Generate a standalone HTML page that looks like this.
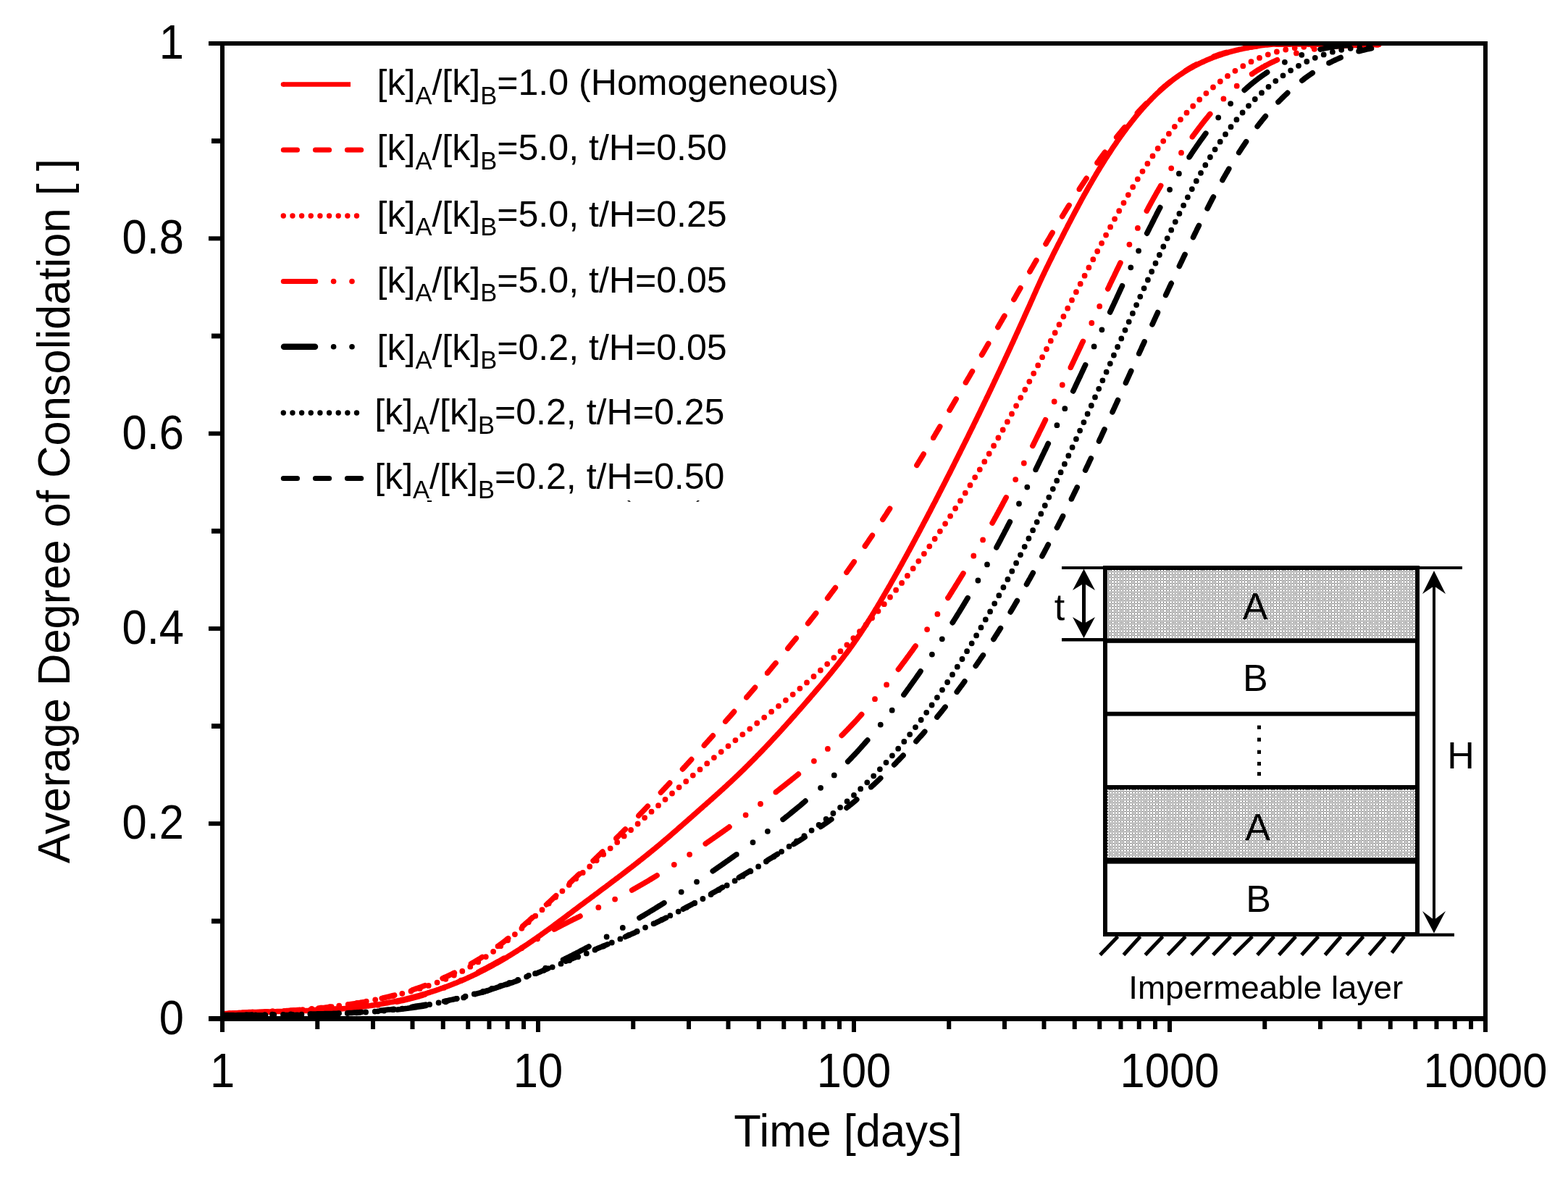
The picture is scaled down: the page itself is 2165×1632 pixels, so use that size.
<!DOCTYPE html><html><head><meta charset="utf-8"><title>Average Degree of Consolidation vs Time</title><style>html,body{margin:0;padding:0;background:#fff;overflow:hidden}svg{display:block}</style></head><body><svg width="2165" height="1632" viewBox="0 0 2165 1632"><rect width="2165" height="1632" fill="#fff"/><path d="M309.3 1399.9L311.3 1399.7L313.2 1399.6L315.2 1399.4L317.1 1399.3L319.1 1399.2L321.0 1399.0L323.0 1398.9L325.0 1398.8L326.9 1398.7L328.9 1398.6L330.9 1398.5L332.8 1398.4L334.8 1398.3L336.8 1398.2L338.8 1398.1L340.7 1398.0L342.7 1397.9L344.7 1397.8L346.7 1397.7L348.7 1397.7L350.6 1397.6L352.6 1397.5L354.6 1397.4L356.6 1397.4L358.6 1397.3L360.6 1397.2L362.6 1397.2L364.6 1397.1L366.6 1397.0L368.6 1397.0L370.6 1396.9L372.6 1396.9L374.6 1396.8L376.6 1396.8L378.6 1396.7L380.6 1396.7L382.6 1396.6L384.6 1396.6L386.6 1396.5L388.6 1396.4L390.6 1396.4L392.6 1396.3L394.6 1396.3L396.6 1396.2L398.6 1396.2L400.6 1396.1L402.6 1396.1L404.6 1396.0L406.6 1396.0L408.6 1395.9L410.7 1395.9L412.7 1395.8L414.7 1395.7L416.7 1395.7L418.7 1395.6L420.7 1395.5L422.7 1395.5L424.7 1395.4L426.8 1395.3L428.8 1395.3L430.8 1395.2L432.8 1395.1L434.8 1395.0L436.8 1394.9L438.8 1394.8L440.8 1394.7L442.9 1394.6L444.9 1394.6L446.9 1394.4L448.9 1394.3L450.9 1394.2L452.9 1394.1L454.9 1394.0L456.9 1393.9L458.9 1393.8L461.0 1393.6L463.0 1393.5L465.0 1393.4L467.0 1393.2L469.0 1393.1L471.0 1392.9L473.0 1392.7L475.0 1392.6L477.0 1392.4L479.0 1392.2L481.0 1392.1L483.0 1391.9L485.0 1391.7L487.0 1391.5L489.0 1391.3L491.0 1391.1L493.0 1390.9L495.0 1390.6L497.0 1390.4L499.0 1390.2L501.0 1389.9L503.0 1389.7L505.0 1389.4L507.0 1389.1L509.0 1388.9L511.0 1388.6L512.9 1388.3L514.9 1388.0L516.9 1387.7L518.9 1387.4L520.9 1387.1L522.9 1386.8L524.8 1386.4L526.8 1386.1L528.8 1385.8L530.8 1385.4L532.7 1385.1L534.7 1384.7L536.7 1384.3L538.6 1383.9L540.6 1383.6L542.6 1383.2L544.5 1382.8L546.5 1382.4L548.5 1381.9L550.4 1381.5L552.4 1381.1L554.3 1380.6L556.3 1380.2L558.2 1379.8L560.2 1379.3L562.1 1378.8L564.0 1378.3L566.0 1377.9L567.9 1377.4L569.9 1376.9L571.8 1376.4L573.7 1375.9L575.6 1375.3L577.6 1374.8L579.5 1374.3L581.4 1373.7L583.3 1373.2L585.2 1372.6L587.2 1372.1L589.1 1371.5L591.0 1370.9L592.9 1370.3L594.8 1369.7L596.7 1369.1L598.6 1368.5L600.5 1367.9L602.4 1367.2L604.2 1366.6L606.1 1366.0L608.0 1365.3L609.9 1364.6L611.8 1364.0L613.6 1363.3L615.5 1362.6L617.4 1361.9L619.2 1361.2L621.1 1360.5L623.0 1359.8L624.8 1359.1L626.7 1358.3L628.5 1357.6L630.4 1356.9L632.2 1356.1L634.0 1355.3L635.9 1354.6L637.7 1353.8L639.5 1353.0L641.4 1352.2L643.2 1351.4L645.0 1350.6L646.8 1349.7L648.6 1348.9L650.4 1348.1L652.2 1347.2L654.0 1346.4L655.8 1345.5L657.6 1344.7L659.4 1343.8L661.2 1342.9L663.0 1342.0L664.7 1341.1L666.5 1340.2L668.3 1339.3L670.1 1338.4L671.8 1337.5L673.6 1336.5L675.3 1335.6L677.1 1334.7L678.8 1333.7L680.6 1332.8L682.3 1331.8L684.1 1330.8L685.8 1329.9L687.5 1328.9L689.3 1327.9L691.0 1326.9L692.7 1325.9L694.4 1324.9L696.1 1323.9L697.9 1322.9L699.6 1321.9L701.3 1320.8L703.0 1319.8L704.7 1318.8L706.4 1317.7L708.0 1316.7L709.7 1315.6L711.4 1314.6L713.1 1313.5L714.8 1312.4L716.4 1311.4L718.1 1310.3L719.8 1309.2L721.4 1308.1L723.1 1307.0L724.7 1306.0L726.4 1304.9L728.0 1303.8L729.7 1302.7L731.3 1301.5L733.0 1300.4L734.6 1299.3L736.2 1298.2L737.8 1297.1L739.5 1296.0L741.1 1294.8L742.7 1293.7L744.3 1292.6L745.9 1291.4L747.5 1290.3L749.1 1289.1L750.7 1288.0L752.3 1286.8L753.9 1285.7L755.5 1284.5L757.1 1283.4L758.7 1282.2L760.3 1281.0L761.9 1279.9L763.5 1278.7L765.1 1277.5L766.6 1276.3L768.2 1275.2L769.8 1274.0L771.4 1272.8L773.0 1271.6L774.6 1270.4L776.2 1269.3L777.7 1268.1L779.3 1266.9L780.9 1265.7L782.5 1264.5L784.1 1263.3L785.7 1262.1L787.3 1260.9L788.9 1259.7L790.5 1258.5L792.1 1257.3L793.7 1256.1L795.3 1254.9L796.9 1253.7L798.5 1252.5L800.1 1251.3L801.7 1250.1L803.3 1248.9L805.0 1247.7L806.6 1246.5L808.2 1245.3L809.8 1244.1L811.4 1242.9L813.1 1241.7L814.7 1240.5L816.3 1239.3L817.9 1238.1L819.6 1236.9L821.2 1235.6L822.8 1234.4L824.5 1233.2L826.1 1232.0L827.7 1230.8L829.3 1229.6L831.0 1228.3L832.6 1227.1L834.2 1225.9L835.9 1224.7L837.5 1223.5L839.1 1222.2L840.8 1221.0L842.4 1219.8L844.0 1218.6L845.7 1217.3L847.3 1216.1L848.9 1214.9L850.5 1213.6L852.2 1212.4L853.8 1211.2L855.4 1209.9L857.0 1208.7L858.7 1207.5L860.3 1206.2L861.9 1205.0L863.5 1203.8L865.1 1202.5L866.7 1201.3L868.3 1200.0L870.0 1198.8L871.6 1197.6L873.2 1196.3L874.8 1195.1L876.4 1193.8L878.0 1192.6L879.6 1191.3L881.2 1190.1L882.7 1188.8L884.3 1187.6L885.9 1186.3L887.5 1185.0L889.1 1183.8L890.6 1182.5L892.2 1181.3L893.8 1180.0L895.3 1178.8L896.9 1177.5L898.5 1176.2L900.0 1175.0L901.6 1173.7L903.1 1172.4L904.7 1171.2L906.2 1169.9L907.7 1168.6L909.3 1167.3L910.8 1166.1L912.3 1164.8L913.8 1163.5L915.3 1162.2L916.8 1161.0L918.3 1159.7L919.9 1158.4L921.4 1157.1L922.9 1155.8L924.3 1154.6L925.8 1153.3L927.3 1152.0L928.8 1150.7L930.3 1149.4L931.8 1148.1L933.3 1146.8L934.8 1145.5L936.2 1144.2L937.7 1142.9L939.2 1141.6L940.7 1140.3L942.2 1139.0L943.7 1137.7L945.1 1136.4L946.6 1135.1L948.1 1133.8L949.6 1132.5L951.1 1131.2L952.6 1129.9L954.0 1128.6L955.5 1127.3L957.0 1125.9L958.5 1124.6L960.0 1123.3L961.5 1122.0L963.0 1120.7L964.5 1119.3L966.0 1118.0L967.5 1116.7L969.0 1115.4L970.5 1114.0L972.0 1112.7L973.6 1111.4L975.1 1110.0L976.6 1108.7L978.1 1107.4L979.6 1106.0L981.1 1104.7L982.6 1103.4L984.1 1102.0L985.6 1100.7L987.1 1099.3L988.6 1098.0L990.1 1096.6L991.6 1095.3L993.1 1093.9L994.6 1092.6L996.1 1091.2L997.6 1089.9L999.1 1088.5L1000.6 1087.1L1002.1 1085.8L1003.6 1084.4L1005.0 1083.0L1006.5 1081.7L1008.0 1080.3L1009.5 1078.9L1010.9 1077.6L1012.4 1076.2L1013.8 1074.8L1015.3 1073.4L1016.7 1072.1L1018.2 1070.7L1019.6 1069.3L1021.0 1067.9L1022.5 1066.5L1023.9 1065.2L1025.3 1063.8L1026.8 1062.4L1028.2 1061.0L1029.6 1059.6L1031.0 1058.2L1032.4 1056.8L1033.8 1055.4L1035.2 1054.0L1036.6 1052.6L1038.0 1051.2L1039.4 1049.8L1040.8 1048.4L1042.2 1047.0L1043.6 1045.6L1044.9 1044.1L1046.3 1042.7L1047.7 1041.3L1049.1 1039.9L1050.4 1038.5L1051.8 1037.1L1053.2 1035.6L1054.5 1034.2L1055.9 1032.8L1057.3 1031.4L1058.6 1029.9L1060.0 1028.5L1061.3 1027.1L1062.7 1025.6L1064.0 1024.2L1065.4 1022.7L1066.7 1021.3L1068.1 1019.8L1069.4 1018.4L1070.7 1017.0L1072.1 1015.5L1073.4 1014.0L1074.8 1012.6L1076.1 1011.1L1077.4 1009.7L1078.8 1008.2L1080.1 1006.8L1081.4 1005.3L1082.7 1003.8L1084.1 1002.4L1085.4 1000.9L1086.7 999.4L1088.0 997.9L1089.4 996.5L1090.7 995.0L1092.0 993.5L1093.3 992.0L1094.6 990.5L1095.9 989.1L1097.3 987.6L1098.6 986.1L1099.9 984.6L1101.2 983.1L1102.5 981.6L1103.8 980.1L1105.2 978.6L1106.5 977.1L1107.8 975.6L1109.1 974.1L1110.4 972.6L1111.7 971.1L1113.0 969.6L1114.4 968.0L1115.7 966.5L1117.0 965.0L1118.3 963.5L1119.6 962.0L1120.9 960.4L1122.3 958.9L1123.6 957.4L1124.9 955.8L1126.2 954.3L1127.5 952.8L1128.8 951.2L1130.1 949.7L1131.5 948.1L1132.8 946.6L1134.1 945.1L1135.4 943.5L1136.7 942.0L1138.0 940.4L1139.3 938.8L1140.6 937.3L1141.9 935.7L1143.2 934.2L1144.5 932.6L1145.8 931.0L1147.1 929.5L1148.4 927.9L1149.6 926.3L1150.9 924.7L1152.2 923.1L1153.5 921.6L1154.7 920.0L1156.0 918.4L1157.3 916.8L1158.5 915.2L1159.8 913.6L1161.0 912.0L1162.2 910.4L1163.5 908.8L1164.7 907.2L1165.9 905.6L1167.1 904.0L1168.4 902.4L1169.6 900.8L1170.8 899.2L1172.0 897.6L1173.1 895.9L1174.3 894.3L1175.5 892.7L1176.7 891.1L1177.8 889.4L1179.0 887.8L1180.1 886.2L1181.2 884.5L1182.4 882.9L1183.5 881.3L1184.6 879.6L1185.7 878.0L1186.9 876.3L1188.0 874.7L1189.1 873.0L1190.2 871.4L1191.2 869.7L1192.3 868.1L1193.4 866.4L1194.5 864.7L1195.6 863.1L1196.6 861.4L1197.7 859.7L1198.7 858.1L1199.8 856.4L1200.9 854.7L1201.9 853.0L1202.9 851.4L1204.0 849.7L1205.0 848.0L1206.1 846.3L1207.1 844.6L1208.1 842.9L1209.1 841.2L1210.2 839.6L1211.2 837.9L1212.2 836.2L1213.2 834.5L1214.2 832.8L1215.2 831.1L1216.2 829.4L1217.2 827.7L1218.2 825.9L1219.3 824.2L1220.2 822.5L1221.2 820.8L1222.2 819.1L1223.2 817.4L1224.2 815.7L1225.2 814.0L1226.2 812.2L1227.2 810.5L1228.2 808.8L1229.2 807.1L1230.2 805.3L1231.1 803.6L1232.1 801.9L1233.1 800.2L1234.1 798.4L1235.1 796.7L1236.0 795.0L1237.0 793.2L1238.0 791.5L1239.0 789.7L1239.9 788.0L1240.9 786.3L1241.9 784.5L1242.8 782.8L1243.8 781.0L1244.8 779.3L1245.7 777.5L1246.7 775.8L1247.7 774.0L1248.6 772.3L1249.6 770.5L1250.6 768.8L1251.5 767.0L1252.5 765.3L1253.4 763.5L1254.4 761.7L1255.4 760.0L1256.3 758.2L1257.3 756.5L1258.2 754.7L1259.2 752.9L1260.1 751.2L1261.1 749.4L1262.0 747.6L1263.0 745.9L1263.9 744.1L1264.9 742.3L1265.8 740.6L1266.8 738.8L1267.7 737.0L1268.7 735.2L1269.6 733.5L1270.5 731.7L1271.5 729.9L1272.4 728.1L1273.4 726.4L1274.3 724.6L1275.2 722.8L1276.2 721.0L1277.1 719.2L1278.1 717.5L1279.0 715.7L1279.9 713.9L1280.9 712.1L1281.8 710.3L1282.7 708.5L1283.7 706.8L1284.6 705.0L1285.5 703.2L1286.4 701.4L1287.4 699.6L1288.3 697.8L1289.2 696.0L1290.2 694.2L1291.1 692.5L1292.0 690.7L1292.9 688.9L1293.8 687.1L1294.8 685.3L1295.7 683.5L1296.6 681.7L1297.5 679.9L1298.5 678.1L1299.4 676.3L1300.3 674.5L1301.2 672.7L1302.1 671.0L1303.0 669.2L1304.0 667.4L1304.9 665.6L1305.8 663.8L1306.7 662.0L1307.6 660.2L1308.5 658.4L1309.4 656.6L1310.4 654.8L1311.3 653.0L1312.2 651.2L1313.1 649.4L1314.0 647.6L1314.9 645.8L1315.8 644.0L1316.7 642.2L1317.6 640.4L1318.5 638.6L1319.4 636.8L1320.3 635.0L1321.2 633.2L1322.1 631.4L1323.0 629.6L1323.9 627.8L1324.8 626.0L1325.7 624.2L1326.6 622.4L1327.5 620.6L1328.4 618.8L1329.3 617.0L1330.2 615.2L1331.1 613.4L1332.0 611.6L1332.9 609.8L1333.8 608.0L1334.7 606.2L1335.6 604.4L1336.5 602.6L1337.4 600.8L1338.2 599.0L1339.1 597.2L1340.0 595.4L1340.9 593.6L1341.8 591.8L1342.7 590.0L1343.6 588.2L1344.4 586.4L1345.3 584.6L1346.2 582.8L1347.1 581.0L1348.0 579.2L1348.8 577.4L1349.7 575.6L1350.6 573.8L1351.5 572.0L1352.4 570.2L1353.2 568.4L1354.1 566.6L1355.0 564.7L1355.9 562.9L1356.7 561.1L1357.6 559.3L1358.5 557.5L1359.3 555.7L1360.2 553.9L1361.1 552.1L1361.9 550.3L1362.8 548.5L1363.7 546.7L1364.5 544.9L1365.4 543.1L1366.3 541.3L1367.1 539.5L1368.0 537.7L1368.8 535.9L1369.7 534.1L1370.6 532.3L1371.4 530.4L1372.3 528.6L1373.1 526.8L1374.0 525.0L1374.8 523.2L1375.7 521.4L1376.5 519.6L1377.4 517.8L1378.2 516.0L1379.1 514.2L1379.9 512.4L1380.8 510.6L1381.6 508.8L1382.5 507.0L1383.3 505.2L1384.2 503.4L1385.0 501.6L1385.9 499.7L1386.7 497.9L1387.5 496.1L1388.4 494.3L1389.2 492.5L1390.0 490.7L1390.9 488.9L1391.7 487.1L1392.6 485.3L1393.4 483.5L1394.2 481.7L1395.1 479.9L1395.9 478.1L1396.7 476.3L1397.5 474.5L1398.4 472.7L1399.2 470.9L1400.0 469.1L1400.8 467.3L1401.7 465.5L1402.5 463.6L1403.3 461.8L1404.1 460.0L1405.0 458.2L1405.8 456.4L1406.6 454.6L1407.4 452.8L1408.2 451.0L1409.0 449.2L1409.9 447.4L1410.7 445.6L1411.5 443.8L1412.3 442.0L1413.1 440.2L1413.9 438.4L1414.7 436.6L1415.5 434.8L1416.3 433.0L1417.1 431.2L1417.9 429.4L1418.7 427.6L1419.6 425.8L1420.4 424.0L1421.2 422.2L1422.0 420.4L1422.8 418.6L1423.6 416.8L1424.4 415.0L1425.2 413.2L1426.0 411.4L1426.8 409.6L1427.6 407.8L1428.4 406.0L1429.2 404.2L1430.0 402.4L1430.8 400.6L1431.6 398.8L1432.4 397.0L1433.2 395.2L1434.0 393.4L1434.9 391.6L1435.7 389.8L1436.5 388.0L1437.3 386.2L1438.2 384.4L1439.0 382.6L1439.9 380.8L1440.7 379.0L1441.6 377.2L1442.4 375.4L1443.3 373.6L1444.2 371.8L1445.0 370.0L1445.9 368.2L1446.8 366.5L1447.6 364.7L1448.5 362.9L1449.4 361.1L1450.3 359.3L1451.2 357.5L1452.1 355.7L1453.0 353.9L1453.8 352.1L1454.7 350.3L1455.6 348.5L1456.5 346.7L1457.4 344.9L1458.3 343.2L1459.2 341.4L1460.1 339.6L1461.0 337.8L1461.9 336.0L1462.9 334.2L1463.8 332.4L1464.7 330.6L1465.6 328.9L1466.5 327.1L1467.4 325.3L1468.3 323.5L1469.2 321.7L1470.1 319.9L1471.0 318.1L1472.0 316.4L1472.9 314.6L1473.8 312.8L1474.7 311.0L1475.6 309.2L1476.6 307.4L1477.5 305.7L1478.4 303.9L1479.4 302.1L1480.3 300.3L1481.2 298.6L1482.2 296.8L1483.1 295.0L1484.0 293.2L1485.0 291.5L1485.9 289.7L1486.9 287.9L1487.8 286.2L1488.8 284.4L1489.7 282.6L1490.7 280.9L1491.6 279.1L1492.6 277.3L1493.5 275.6L1494.5 273.8L1495.5 272.0L1496.4 270.3L1497.4 268.5L1498.4 266.8L1499.4 265.0L1500.4 263.3L1501.3 261.5L1502.3 259.8L1503.3 258.0L1504.3 256.3L1505.3 254.5L1506.3 252.8L1507.3 251.1L1508.3 249.3L1509.3 247.6L1510.4 245.8L1511.4 244.1L1512.4 242.4L1513.4 240.6L1514.5 238.9L1515.5 237.2L1516.5 235.5L1517.6 233.7L1518.6 232.0L1519.7 230.3L1520.7 228.6L1521.8 226.9L1522.9 225.2L1523.9 223.5L1525.0 221.7L1526.1 220.0L1527.2 218.3L1528.3 216.6L1529.4 214.9L1530.5 213.2L1531.6 211.6L1532.7 209.9L1533.8 208.2L1534.9 206.5L1536.0 204.8L1537.1 203.1L1538.3 201.4L1539.4 199.8L1540.6 198.1L1541.7 196.4L1542.9 194.7L1544.0 193.1L1545.2 191.4L1546.3 189.8L1547.5 188.1L1548.7 186.5L1549.9 184.8L1551.1 183.2L1552.3 181.5L1553.5 179.9L1554.7 178.3L1555.9 176.6L1557.1 175.0L1558.4 173.4L1559.6 171.8L1560.9 170.2L1562.1 168.6L1563.4 167.0L1564.6 165.4L1565.9 163.8L1567.2 162.2L1568.4 160.7L1569.7 159.1L1571.0 157.5L1572.3 156.0L1573.6 154.5L1574.9 152.9L1576.3 151.4L1577.6 149.9L1578.9 148.4L1580.3 146.9L1581.6 145.4L1583.0 143.9L1584.4 142.4L1585.7 141.0L1587.1 139.5L1588.5 138.1L1589.9 136.6L1591.3 135.2L1592.7 133.8L1594.1 132.4L1595.5 131.0L1597.0 129.6L1598.4 128.3L1599.9 126.9L1601.3 125.5L1602.8 124.2L1604.3 122.9L1605.8 121.6L1607.3 120.3L1608.7 119.0L1610.3 117.7L1611.8 116.4L1613.3 115.2L1614.8 113.9L1616.4 112.7L1617.9 111.5L1619.5 110.3L1621.1 109.1L1622.6 108.0L1624.2 106.8L1625.8 105.7L1627.4 104.5L1629.0 103.4L1630.7 102.3L1632.3 101.3L1633.9 100.2L1635.6 99.1L1637.2 98.1L1638.9 97.1L1640.6 96.1L1642.3 95.1L1644.0 94.1L1645.7 93.2L1647.4 92.2L1649.1 91.3L1650.8 90.4L1652.6 89.5L1654.3 88.6L1656.1 87.7L1657.8 86.9L1659.6 86.0L1661.4 85.2L1663.2 84.4L1664.9 83.6L1666.7 82.8L1668.6 82.1L1670.4 81.3L1672.2 80.6L1674.0 79.8L1675.8 79.1L1677.7 78.4L1679.5 77.7L1681.4 77.1L1683.2 76.4L1685.1 75.8L1687.0 75.2L1688.9 74.5L1690.7 73.9L1692.6 73.3L1694.5 72.8L1696.4 72.2L1698.3 71.7L1700.2 71.1L1702.1 70.6L1704.1 70.1L1706.0 69.6L1707.9 69.1L1709.9 68.7L1711.8 68.2L1713.7 67.8L1715.7 67.3L1717.6 66.9L1719.6 66.5L1721.6 66.1L1723.5 65.7L1725.5 65.4L1727.5 65.0L1729.5 64.7L1731.4 64.3L1733.4 64.0L1735.4 63.7L1737.4 63.4L1739.4 63.1L1741.4 62.8L1743.4 62.6L1745.4 62.3L1747.4 62.1L1749.4 61.9L1751.4 61.7L1753.4 61.5L1755.5 61.3L1757.5 61.1L1759.5 61.0L1761.5 61.0L1763.5 61.0L1765.6 61.0L1767.6 61.0L1769.6 61.0L1771.7 61.0L1773.7 61.0L1775.7 61.0L1777.8 61.0L1779.8 61.0L1781.8 61.0L1783.9 61.0L1785.9 61.0L1787.9 61.0L1790.0 61.0L1792.0 61.0L1794.1 61.0L1796.1 61.0L1798.1 61.0L1800.2 61.0L1802.2 61.0L1804.3 61.0L1806.3 61.0L1808.3 61.0L1810.4 61.0L1812.4 61.0L1814.5 61.0L1816.5 61.0L1818.5 61.0L1820.6 61.0L1822.6 61.0L1824.6 61.0L1826.7 61.0L1828.7 61.0L1830.7 61.0L1832.7 61.0L1834.8 61.0L1836.8 61.0L1838.8 61.0L1840.8 61.0L1842.8 61.0L1844.9 61.0L1846.9 61.0L1848.9 61.0L1850.9 61.0L1852.9 61.1L1854.9 61.2L1856.9 61.2L1858.9 61.3L1860.9 61.4L1862.8 61.4L1864.8 61.5L1866.8 61.5L1868.8 61.6L1870.8 61.6L1872.7 61.6L1874.7 61.7L1876.6 61.7L1878.6 61.7L1880.5 61.7L1882.5 61.8L1884.4 61.8L1886.4 61.8L1888.3 61.7L1890.2 61.7L1892.2 61.7L1894.1 61.7L1896.0 61.6L1897.9 61.6L1899.8 61.5L1901.7 61.5L1903.6 61.4L1903.6 61.4" fill="none" stroke="#ff0000" stroke-width="7.5" stroke-linejoin="round"/><path d="M309.1 1399.6L309.6 1399.6L311.6 1399.5L313.6 1399.4L315.5 1399.4L317.5 1399.3L319.5 1399.2L321.5 1399.1L323.5 1399.0L325.5 1398.9M351.6 1397.8L351.9 1397.8L353.9 1397.7L355.9 1397.6L357.9 1397.5L359.9 1397.4L361.9 1397.3L363.8 1397.2L365.8 1397.1L367.8 1397.0L369.6 1396.9M395.8 1395.5L395.8 1395.5L397.8 1395.4L399.8 1395.2L401.8 1395.1L403.8 1395.0L405.8 1394.8L407.8 1394.7L409.8 1394.6L411.8 1394.4L413.8 1394.3M439.9 1392.0L440.3 1392.0L442.3 1391.8L444.2 1391.6L446.2 1391.4L448.2 1391.2L450.2 1390.9L452.2 1390.7L454.2 1390.5L456.2 1390.3L457.8 1390.1M483.8 1386.6L483.9 1386.6L485.9 1386.2L487.9 1385.9L489.9 1385.6L491.8 1385.3L493.8 1385.0L495.8 1384.6L497.7 1384.3L499.7 1383.9L501.5 1383.6M527.2 1378.4L527.6 1378.3L529.5 1377.8L531.5 1377.4L533.4 1376.9L535.4 1376.4L537.3 1376.0L539.2 1375.5L541.2 1375.0L543.1 1374.5L544.7 1374.1M569.8 1366.7L570.0 1366.6L571.9 1366.0L573.8 1365.3L575.7 1364.7L577.6 1364.0L579.5 1363.4L581.4 1362.7L583.3 1362.0L585.2 1361.3L586.8 1360.7M611.1 1350.8L611.5 1350.6L613.3 1349.8L615.2 1349.0L617.0 1348.1L618.9 1347.3L620.7 1346.4L622.5 1345.5L624.4 1344.6L626.2 1343.7L627.4 1343.1M650.5 1330.7L650.7 1330.6L652.4 1329.6L654.2 1328.6L655.9 1327.6L657.6 1326.5L659.3 1325.5L661.0 1324.4L662.7 1323.4L664.4 1322.3L665.8 1321.4M687.4 1306.5L687.5 1306.5L689.1 1305.3L690.7 1304.1L692.2 1303.0L693.8 1301.8L695.3 1300.6L696.8 1299.4L698.4 1298.2L699.9 1297.0L701.4 1295.8L701.7 1295.6M721.8 1278.7L721.8 1278.7L723.3 1277.5L724.7 1276.2L726.2 1274.9L727.7 1273.6L729.1 1272.3L730.6 1271.0L732.0 1269.7L733.5 1268.4L734.9 1267.1L735.3 1266.8M754.5 1249.0L754.8 1248.8L756.2 1247.4L757.7 1246.1L759.2 1244.7L760.6 1243.3L762.1 1242.0L763.5 1240.6L765.0 1239.2L766.5 1237.9L767.7 1236.7M786.9 1218.9L787.0 1218.8L788.5 1217.4L790.0 1216.0L791.5 1214.6L793.0 1213.2L794.5 1211.8L796.0 1210.4L797.4 1209.0L798.9 1207.6L800.1 1206.6M819.1 1188.5L819.3 1188.3L820.7 1186.9L822.2 1185.5L823.7 1184.1L825.1 1182.7L826.6 1181.2L828.0 1179.8L829.5 1178.4L830.9 1177.0L832.0 1176.0M850.7 1157.6L850.7 1157.5L852.2 1156.1L853.6 1154.7L855.0 1153.3L856.4 1151.9L857.8 1150.4L859.3 1149.0L860.7 1147.6L862.1 1146.2L863.4 1144.9M881.8 1126.2L882.1 1125.8L883.5 1124.4L884.9 1123.0L886.3 1121.5L887.7 1120.1L889.1 1118.7L890.4 1117.2L891.8 1115.8L893.2 1114.3L894.3 1113.2M912.4 1094.2L912.4 1094.2L913.8 1092.7L915.2 1091.3L916.5 1089.8L917.9 1088.4L919.3 1086.9L920.6 1085.5L922.0 1084.0L923.3 1082.6L924.7 1081.1L924.7 1081.1M942.5 1061.9L942.6 1061.8L943.9 1060.4L945.3 1058.9L946.6 1057.5L947.9 1056.0L949.3 1054.5L950.6 1053.1L952.0 1051.6L953.3 1050.1L954.6 1048.7L954.7 1048.6M972.3 1029.2L972.6 1028.8L973.9 1027.3L975.3 1025.8L976.6 1024.4L977.9 1022.9L979.2 1021.4L980.6 1019.9L981.9 1018.4L983.2 1017.0L984.3 1015.8M1001.7 996.1L1001.7 996.1L1003.0 994.6L1004.3 993.1L1005.7 991.6L1007.0 990.1L1008.3 988.7L1009.6 987.2L1010.9 985.7L1012.2 984.2L1013.5 982.7L1013.6 982.6M1030.8 962.9L1030.9 962.7L1032.2 961.2L1033.6 959.7L1034.9 958.1L1036.2 956.6L1037.5 955.1L1038.8 953.6L1040.1 952.1L1041.4 950.6L1042.5 949.2M1059.5 929.2L1059.6 929.2L1060.9 927.7L1062.2 926.1L1063.5 924.6L1064.8 923.1L1066.0 921.5L1067.3 920.0L1068.6 918.4L1069.9 916.9L1071.1 915.5M1087.8 895.3L1087.8 895.3L1089.1 893.7L1090.4 892.1L1091.6 890.6L1092.9 889.0L1094.2 887.5L1095.4 885.9L1096.7 884.4L1098.0 882.8L1099.2 881.3M1115.6 860.8L1115.9 860.4L1117.1 858.9L1118.3 857.3L1119.6 855.7L1120.8 854.1L1122.1 852.6L1123.3 851.0L1124.5 849.4L1125.8 847.8L1126.7 846.7M1142.6 825.9L1142.9 825.5L1144.1 823.9L1145.3 822.3L1146.5 820.7L1147.7 819.1L1148.9 817.5L1150.1 815.9L1151.3 814.3L1152.5 812.7L1153.4 811.5M1168.9 790.3L1169.1 790.1L1170.2 788.5L1171.4 786.8L1172.6 785.2L1173.7 783.6L1174.9 781.9L1176.0 780.3L1177.2 778.7L1178.3 777.1L1179.3 775.6M1194.3 754.1L1194.3 754.1L1195.4 752.4L1196.5 750.8L1197.7 749.1L1198.8 747.5L1199.9 745.8L1201.0 744.2L1202.1 742.5L1203.3 740.9L1204.4 739.2L1204.4 739.2M1218.8 717.3L1218.9 717.2L1220.0 715.5L1221.1 713.8L1222.2 712.1L1223.3 710.5L1224.4 708.8L1225.4 707.1L1226.5 705.4L1227.6 703.8L1228.6 702.2M1265.9 642.4L1266.1 642.0L1267.2 640.3L1268.2 638.6L1269.2 636.9L1270.3 635.2L1271.3 633.5L1272.3 631.8L1273.4 630.1L1274.4 628.4L1275.2 627.0M1288.7 604.5L1288.7 604.4L1289.8 602.7L1290.8 601.0L1291.8 599.2L1292.8 597.5L1293.8 595.8L1294.8 594.1L1295.9 592.4L1296.9 590.6L1297.8 589.0M1311.1 566.4L1311.3 566.1L1312.3 564.4L1313.3 562.6L1314.4 560.9L1315.4 559.2L1316.4 557.4L1317.4 555.7L1318.4 554.0L1319.4 552.3L1320.2 550.9M1333.4 528.2L1333.5 528.0L1334.5 526.3L1335.5 524.6L1336.6 522.8L1337.6 521.1L1338.6 519.4L1339.6 517.6L1340.6 515.9L1341.6 514.2L1342.5 512.7M1355.6 490.0L1355.7 489.9L1356.7 488.1L1357.8 486.4L1358.8 484.7L1359.8 482.9L1360.8 481.2L1361.8 479.5L1362.8 477.7L1363.8 476.0L1364.7 474.5M1377.8 451.8L1377.9 451.7L1378.9 449.9L1379.9 448.2L1380.9 446.5L1381.9 444.7L1382.9 443.0L1383.9 441.3L1384.9 439.5L1385.9 437.8L1386.9 436.2M1399.9 413.5L1400.2 413.1L1401.2 411.3L1402.2 409.6L1403.1 407.9L1404.1 406.1L1405.1 404.4L1406.1 402.7L1407.1 400.9L1408.1 399.2L1408.9 397.8M1421.9 375.1L1422.0 375.0L1422.9 373.3L1423.9 371.5L1424.9 369.8L1425.9 368.1L1426.9 366.4L1427.9 364.6L1428.9 362.9L1429.9 361.2L1430.9 359.5M1444.0 336.8L1444.1 336.7L1445.1 334.9L1446.1 333.2L1447.1 331.5L1448.1 329.8L1449.1 328.1L1450.1 326.4L1451.1 324.6L1452.2 322.9L1453.1 321.3M1466.6 298.8L1466.8 298.6L1467.8 296.9L1468.9 295.1L1469.9 293.4L1471.0 291.7L1472.0 290.0L1473.1 288.3L1474.1 286.6L1475.2 284.9L1476.1 283.5M1490.2 261.3L1490.2 261.2L1491.3 259.5L1492.4 257.9L1493.5 256.2L1494.6 254.5L1495.8 252.8L1496.9 251.1L1498.0 249.5L1499.1 247.8L1500.1 246.3M1515.0 224.8L1515.1 224.6L1516.3 223.0L1517.5 221.4L1518.6 219.7L1519.8 218.1L1521.0 216.5L1522.2 214.8L1523.4 213.2L1524.6 211.6L1525.6 210.2M1541.6 189.5L1541.7 189.3L1543.0 187.7L1544.3 186.2L1545.5 184.6L1546.8 183.1L1548.1 181.5L1549.4 180.0L1550.6 178.4L1551.9 176.9L1553.0 175.6M1570.4 155.9L1570.5 155.8L1571.9 154.3L1573.2 152.8L1574.6 151.4L1576.0 149.9L1577.4 148.5L1578.8 147.0L1580.1 145.6L1581.5 144.2L1582.8 142.9M1601.8 124.8L1602.1 124.5L1603.6 123.1L1605.1 121.8L1606.6 120.5L1608.1 119.2L1609.7 118.0L1611.2 116.7L1612.7 115.4L1614.3 114.2L1615.5 113.2M1636.8 97.8L1637.0 97.7L1638.7 96.6L1640.3 95.6L1642.0 94.6L1643.7 93.6L1645.4 92.6L1647.1 91.6L1648.8 90.6L1650.5 89.7L1652.2 88.7L1652.3 88.7M1676.2 77.9L1676.4 77.8L1678.3 77.2L1680.2 76.5L1682.0 75.8L1683.9 75.2L1685.8 74.6L1687.7 74.0L1689.6 73.4L1691.5 72.8L1693.3 72.3M1718.8 66.4L1718.8 66.4L1720.8 66.1L1722.8 65.7L1724.8 65.4L1726.8 65.1L1728.8 64.7L1730.8 64.4L1732.8 64.2L1734.8 63.9L1736.6 63.6M1762.7 61.1L1763.0 61.1L1765.0 61.0L1767.0 61.0L1769.0 61.0L1771.0 61.0L1773.0 61.0L1775.1 61.0L1777.1 61.0L1779.1 61.0L1780.7 61.0M1806.9 61.0L1807.2 61.0L1809.2 61.0L1811.2 61.0L1813.2 61.0L1815.2 61.0L1817.2 61.0L1819.2 61.0L1821.2 61.0L1823.2 61.0L1824.9 61.0M1851.1 61.0L1851.2 61.0L1853.1 61.0L1855.1 61.0L1857.1 61.0L1859.1 61.0L1861.1 61.0L1863.1 61.0L1865.1 61.1L1867.1 61.1L1869.1 61.2L1869.1 61.2M1895.3 61.5L1895.5 61.5L1897.5 61.5L1899.4 61.5L1901.4 61.5L1903.4 61.5L1903.9 61.5" fill="none" stroke="#ff0000" stroke-width="7.5" stroke-linecap="round" stroke-linejoin="round"/><path d="M312.6 1399.2a3.9 3.9 0 1 0 7.8 0a3.9 3.9 0 1 0 -7.8 0M325.3 1398.9a3.9 3.9 0 1 0 7.8 0a3.9 3.9 0 1 0 -7.8 0M337.9 1398.5a3.9 3.9 0 1 0 7.8 0a3.9 3.9 0 1 0 -7.8 0M350.6 1398.0a3.9 3.9 0 1 0 7.8 0a3.9 3.9 0 1 0 -7.8 0M363.3 1397.5a3.9 3.9 0 1 0 7.8 0a3.9 3.9 0 1 0 -7.8 0M375.9 1396.8a3.9 3.9 0 1 0 7.8 0a3.9 3.9 0 1 0 -7.8 0M388.6 1396.0a3.9 3.9 0 1 0 7.8 0a3.9 3.9 0 1 0 -7.8 0M401.2 1395.1a3.9 3.9 0 1 0 7.8 0a3.9 3.9 0 1 0 -7.8 0M413.9 1394.1a3.9 3.9 0 1 0 7.8 0a3.9 3.9 0 1 0 -7.8 0M426.5 1393.0a3.9 3.9 0 1 0 7.8 0a3.9 3.9 0 1 0 -7.8 0M439.1 1391.7a3.9 3.9 0 1 0 7.8 0a3.9 3.9 0 1 0 -7.8 0M451.7 1390.2a3.9 3.9 0 1 0 7.8 0a3.9 3.9 0 1 0 -7.8 0M464.3 1388.6a3.9 3.9 0 1 0 7.8 0a3.9 3.9 0 1 0 -7.8 0M476.8 1386.8a3.9 3.9 0 1 0 7.8 0a3.9 3.9 0 1 0 -7.8 0M489.4 1384.8a3.9 3.9 0 1 0 7.8 0a3.9 3.9 0 1 0 -7.8 0M501.9 1382.7a3.9 3.9 0 1 0 7.8 0a3.9 3.9 0 1 0 -7.8 0M514.3 1380.3a3.9 3.9 0 1 0 7.8 0a3.9 3.9 0 1 0 -7.8 0M526.7 1377.7a3.9 3.9 0 1 0 7.8 0a3.9 3.9 0 1 0 -7.8 0M539.1 1374.9a3.9 3.9 0 1 0 7.8 0a3.9 3.9 0 1 0 -7.8 0M551.4 1371.8a3.9 3.9 0 1 0 7.8 0a3.9 3.9 0 1 0 -7.8 0M563.6 1368.5a3.9 3.9 0 1 0 7.8 0a3.9 3.9 0 1 0 -7.8 0M575.8 1364.9a3.9 3.9 0 1 0 7.8 0a3.9 3.9 0 1 0 -7.8 0M587.8 1360.9a3.9 3.9 0 1 0 7.8 0a3.9 3.9 0 1 0 -7.8 0M599.7 1356.6a3.9 3.9 0 1 0 7.8 0a3.9 3.9 0 1 0 -7.8 0M611.5 1351.8a3.9 3.9 0 1 0 7.8 0a3.9 3.9 0 1 0 -7.8 0M623.0 1346.6a3.9 3.9 0 1 0 7.8 0a3.9 3.9 0 1 0 -7.8 0M634.4 1340.9a3.9 3.9 0 1 0 7.8 0a3.9 3.9 0 1 0 -7.8 0M645.4 1334.7a3.9 3.9 0 1 0 7.8 0a3.9 3.9 0 1 0 -7.8 0M656.3 1328.1a3.9 3.9 0 1 0 7.8 0a3.9 3.9 0 1 0 -7.8 0M666.9 1321.1a3.9 3.9 0 1 0 7.8 0a3.9 3.9 0 1 0 -7.8 0M677.2 1313.8a3.9 3.9 0 1 0 7.8 0a3.9 3.9 0 1 0 -7.8 0M687.3 1306.2a3.9 3.9 0 1 0 7.8 0a3.9 3.9 0 1 0 -7.8 0M697.2 1298.3a3.9 3.9 0 1 0 7.8 0a3.9 3.9 0 1 0 -7.8 0M707.0 1290.1a3.9 3.9 0 1 0 7.8 0a3.9 3.9 0 1 0 -7.8 0M716.5 1281.8a3.9 3.9 0 1 0 7.8 0a3.9 3.9 0 1 0 -7.8 0M725.9 1273.3a3.9 3.9 0 1 0 7.8 0a3.9 3.9 0 1 0 -7.8 0M735.3 1264.7a3.9 3.9 0 1 0 7.8 0a3.9 3.9 0 1 0 -7.8 0M744.6 1256.1a3.9 3.9 0 1 0 7.8 0a3.9 3.9 0 1 0 -7.8 0M753.8 1247.4a3.9 3.9 0 1 0 7.8 0a3.9 3.9 0 1 0 -7.8 0M763.1 1238.8a3.9 3.9 0 1 0 7.8 0a3.9 3.9 0 1 0 -7.8 0M772.5 1230.3a3.9 3.9 0 1 0 7.8 0a3.9 3.9 0 1 0 -7.8 0M781.9 1221.8a3.9 3.9 0 1 0 7.8 0a3.9 3.9 0 1 0 -7.8 0M791.3 1213.3a3.9 3.9 0 1 0 7.8 0a3.9 3.9 0 1 0 -7.8 0M800.8 1204.9a3.9 3.9 0 1 0 7.8 0a3.9 3.9 0 1 0 -7.8 0M810.3 1196.5a3.9 3.9 0 1 0 7.8 0a3.9 3.9 0 1 0 -7.8 0M819.8 1188.1a3.9 3.9 0 1 0 7.8 0a3.9 3.9 0 1 0 -7.8 0M829.3 1179.7a3.9 3.9 0 1 0 7.8 0a3.9 3.9 0 1 0 -7.8 0M838.8 1171.3a3.9 3.9 0 1 0 7.8 0a3.9 3.9 0 1 0 -7.8 0M848.3 1162.9a3.9 3.9 0 1 0 7.8 0a3.9 3.9 0 1 0 -7.8 0M857.8 1154.4a3.9 3.9 0 1 0 7.8 0a3.9 3.9 0 1 0 -7.8 0M867.2 1146.0a3.9 3.9 0 1 0 7.8 0a3.9 3.9 0 1 0 -7.8 0M876.7 1137.5a3.9 3.9 0 1 0 7.8 0a3.9 3.9 0 1 0 -7.8 0M886.2 1129.1a3.9 3.9 0 1 0 7.8 0a3.9 3.9 0 1 0 -7.8 0M895.6 1120.7a3.9 3.9 0 1 0 7.8 0a3.9 3.9 0 1 0 -7.8 0M905.1 1112.2a3.9 3.9 0 1 0 7.8 0a3.9 3.9 0 1 0 -7.8 0M914.6 1103.8a3.9 3.9 0 1 0 7.8 0a3.9 3.9 0 1 0 -7.8 0M924.1 1095.5a3.9 3.9 0 1 0 7.8 0a3.9 3.9 0 1 0 -7.8 0M933.7 1087.1a3.9 3.9 0 1 0 7.8 0a3.9 3.9 0 1 0 -7.8 0M943.3 1078.9a3.9 3.9 0 1 0 7.8 0a3.9 3.9 0 1 0 -7.8 0M952.9 1070.6a3.9 3.9 0 1 0 7.8 0a3.9 3.9 0 1 0 -7.8 0M962.6 1062.4a3.9 3.9 0 1 0 7.8 0a3.9 3.9 0 1 0 -7.8 0M972.3 1054.2a3.9 3.9 0 1 0 7.8 0a3.9 3.9 0 1 0 -7.8 0M982.0 1046.1a3.9 3.9 0 1 0 7.8 0a3.9 3.9 0 1 0 -7.8 0M991.8 1038.1a3.9 3.9 0 1 0 7.8 0a3.9 3.9 0 1 0 -7.8 0M1001.6 1030.1a3.9 3.9 0 1 0 7.8 0a3.9 3.9 0 1 0 -7.8 0M1011.5 1022.1a3.9 3.9 0 1 0 7.8 0a3.9 3.9 0 1 0 -7.8 0M1021.4 1014.2a3.9 3.9 0 1 0 7.8 0a3.9 3.9 0 1 0 -7.8 0M1031.4 1006.3a3.9 3.9 0 1 0 7.8 0a3.9 3.9 0 1 0 -7.8 0M1041.3 998.5a3.9 3.9 0 1 0 7.8 0a3.9 3.9 0 1 0 -7.8 0M1051.3 990.6a3.9 3.9 0 1 0 7.8 0a3.9 3.9 0 1 0 -7.8 0M1061.2 982.7a3.9 3.9 0 1 0 7.8 0a3.9 3.9 0 1 0 -7.8 0M1071.1 974.8a3.9 3.9 0 1 0 7.8 0a3.9 3.9 0 1 0 -7.8 0M1081.0 966.8a3.9 3.9 0 1 0 7.8 0a3.9 3.9 0 1 0 -7.8 0M1090.8 958.8a3.9 3.9 0 1 0 7.8 0a3.9 3.9 0 1 0 -7.8 0M1100.5 950.6a3.9 3.9 0 1 0 7.8 0a3.9 3.9 0 1 0 -7.8 0M1110.1 942.4a3.9 3.9 0 1 0 7.8 0a3.9 3.9 0 1 0 -7.8 0M1119.6 934.0a3.9 3.9 0 1 0 7.8 0a3.9 3.9 0 1 0 -7.8 0M1129.0 925.5a3.9 3.9 0 1 0 7.8 0a3.9 3.9 0 1 0 -7.8 0M1138.3 916.8a3.9 3.9 0 1 0 7.8 0a3.9 3.9 0 1 0 -7.8 0M1147.5 908.1a3.9 3.9 0 1 0 7.8 0a3.9 3.9 0 1 0 -7.8 0M1156.6 899.2a3.9 3.9 0 1 0 7.8 0a3.9 3.9 0 1 0 -7.8 0M1165.5 890.3a3.9 3.9 0 1 0 7.8 0a3.9 3.9 0 1 0 -7.8 0M1174.4 881.2a3.9 3.9 0 1 0 7.8 0a3.9 3.9 0 1 0 -7.8 0M1183.1 872.0a3.9 3.9 0 1 0 7.8 0a3.9 3.9 0 1 0 -7.8 0M1191.7 862.7a3.9 3.9 0 1 0 7.8 0a3.9 3.9 0 1 0 -7.8 0M1200.2 853.3a3.9 3.9 0 1 0 7.8 0a3.9 3.9 0 1 0 -7.8 0M1208.6 843.8a3.9 3.9 0 1 0 7.8 0a3.9 3.9 0 1 0 -7.8 0M1216.9 834.2a3.9 3.9 0 1 0 7.8 0a3.9 3.9 0 1 0 -7.8 0M1225.1 824.5a3.9 3.9 0 1 0 7.8 0a3.9 3.9 0 1 0 -7.8 0M1233.2 814.7a3.9 3.9 0 1 0 7.8 0a3.9 3.9 0 1 0 -7.8 0M1241.2 804.9a3.9 3.9 0 1 0 7.8 0a3.9 3.9 0 1 0 -7.8 0M1249.0 794.9a3.9 3.9 0 1 0 7.8 0a3.9 3.9 0 1 0 -7.8 0M1256.8 784.9a3.9 3.9 0 1 0 7.8 0a3.9 3.9 0 1 0 -7.8 0M1264.4 774.8a3.9 3.9 0 1 0 7.8 0a3.9 3.9 0 1 0 -7.8 0M1272.0 764.6a3.9 3.9 0 1 0 7.8 0a3.9 3.9 0 1 0 -7.8 0M1279.4 754.3a3.9 3.9 0 1 0 7.8 0a3.9 3.9 0 1 0 -7.8 0M1286.8 744.0a3.9 3.9 0 1 0 7.8 0a3.9 3.9 0 1 0 -7.8 0M1294.0 733.6a3.9 3.9 0 1 0 7.8 0a3.9 3.9 0 1 0 -7.8 0M1301.2 723.1a3.9 3.9 0 1 0 7.8 0a3.9 3.9 0 1 0 -7.8 0M1308.2 712.6a3.9 3.9 0 1 0 7.8 0a3.9 3.9 0 1 0 -7.8 0M1315.2 702.0a3.9 3.9 0 1 0 7.8 0a3.9 3.9 0 1 0 -7.8 0M1322.1 691.4a3.9 3.9 0 1 0 7.8 0a3.9 3.9 0 1 0 -7.8 0M1328.9 680.7a3.9 3.9 0 1 0 7.8 0a3.9 3.9 0 1 0 -7.8 0M1335.6 669.9a3.9 3.9 0 1 0 7.8 0a3.9 3.9 0 1 0 -7.8 0M1342.3 659.1a3.9 3.9 0 1 0 7.8 0a3.9 3.9 0 1 0 -7.8 0M1348.9 648.3a3.9 3.9 0 1 0 7.8 0a3.9 3.9 0 1 0 -7.8 0M1355.4 637.4a3.9 3.9 0 1 0 7.8 0a3.9 3.9 0 1 0 -7.8 0M1361.8 626.5a3.9 3.9 0 1 0 7.8 0a3.9 3.9 0 1 0 -7.8 0M1368.2 615.5a3.9 3.9 0 1 0 7.8 0a3.9 3.9 0 1 0 -7.8 0M1374.5 604.5a3.9 3.9 0 1 0 7.8 0a3.9 3.9 0 1 0 -7.8 0M1380.8 593.5a3.9 3.9 0 1 0 7.8 0a3.9 3.9 0 1 0 -7.8 0M1387.0 582.4a3.9 3.9 0 1 0 7.8 0a3.9 3.9 0 1 0 -7.8 0M1393.1 571.4a3.9 3.9 0 1 0 7.8 0a3.9 3.9 0 1 0 -7.8 0M1399.2 560.3a3.9 3.9 0 1 0 7.8 0a3.9 3.9 0 1 0 -7.8 0M1405.3 549.1a3.9 3.9 0 1 0 7.8 0a3.9 3.9 0 1 0 -7.8 0M1411.4 538.0a3.9 3.9 0 1 0 7.8 0a3.9 3.9 0 1 0 -7.8 0M1417.4 526.8a3.9 3.9 0 1 0 7.8 0a3.9 3.9 0 1 0 -7.8 0M1423.3 515.6a3.9 3.9 0 1 0 7.8 0a3.9 3.9 0 1 0 -7.8 0M1429.3 504.4a3.9 3.9 0 1 0 7.8 0a3.9 3.9 0 1 0 -7.8 0M1435.2 493.2a3.9 3.9 0 1 0 7.8 0a3.9 3.9 0 1 0 -7.8 0M1441.1 482.0a3.9 3.9 0 1 0 7.8 0a3.9 3.9 0 1 0 -7.8 0M1446.9 470.7a3.9 3.9 0 1 0 7.8 0a3.9 3.9 0 1 0 -7.8 0M1452.8 459.5a3.9 3.9 0 1 0 7.8 0a3.9 3.9 0 1 0 -7.8 0M1458.6 448.2a3.9 3.9 0 1 0 7.8 0a3.9 3.9 0 1 0 -7.8 0M1464.5 437.0a3.9 3.9 0 1 0 7.8 0a3.9 3.9 0 1 0 -7.8 0M1470.3 425.7a3.9 3.9 0 1 0 7.8 0a3.9 3.9 0 1 0 -7.8 0M1476.1 414.4a3.9 3.9 0 1 0 7.8 0a3.9 3.9 0 1 0 -7.8 0M1482.0 403.2a3.9 3.9 0 1 0 7.8 0a3.9 3.9 0 1 0 -7.8 0M1487.8 391.9a3.9 3.9 0 1 0 7.8 0a3.9 3.9 0 1 0 -7.8 0M1493.7 380.7a3.9 3.9 0 1 0 7.8 0a3.9 3.9 0 1 0 -7.8 0M1499.5 369.4a3.9 3.9 0 1 0 7.8 0a3.9 3.9 0 1 0 -7.8 0M1505.4 358.2a3.9 3.9 0 1 0 7.8 0a3.9 3.9 0 1 0 -7.8 0M1511.3 347.0a3.9 3.9 0 1 0 7.8 0a3.9 3.9 0 1 0 -7.8 0M1517.2 335.8a3.9 3.9 0 1 0 7.8 0a3.9 3.9 0 1 0 -7.8 0M1523.2 324.6a3.9 3.9 0 1 0 7.8 0a3.9 3.9 0 1 0 -7.8 0M1529.2 313.4a3.9 3.9 0 1 0 7.8 0a3.9 3.9 0 1 0 -7.8 0M1535.2 302.3a3.9 3.9 0 1 0 7.8 0a3.9 3.9 0 1 0 -7.8 0M1541.3 291.2a3.9 3.9 0 1 0 7.8 0a3.9 3.9 0 1 0 -7.8 0M1547.6 280.1a3.9 3.9 0 1 0 7.8 0a3.9 3.9 0 1 0 -7.8 0M1553.9 269.1a3.9 3.9 0 1 0 7.8 0a3.9 3.9 0 1 0 -7.8 0M1560.3 258.2a3.9 3.9 0 1 0 7.8 0a3.9 3.9 0 1 0 -7.8 0M1566.9 247.3a3.9 3.9 0 1 0 7.8 0a3.9 3.9 0 1 0 -7.8 0M1573.6 236.6a3.9 3.9 0 1 0 7.8 0a3.9 3.9 0 1 0 -7.8 0M1580.5 225.9a3.9 3.9 0 1 0 7.8 0a3.9 3.9 0 1 0 -7.8 0M1587.6 215.4a3.9 3.9 0 1 0 7.8 0a3.9 3.9 0 1 0 -7.8 0M1594.8 205.0a3.9 3.9 0 1 0 7.8 0a3.9 3.9 0 1 0 -7.8 0M1602.3 194.8a3.9 3.9 0 1 0 7.8 0a3.9 3.9 0 1 0 -7.8 0M1610.0 184.7a3.9 3.9 0 1 0 7.8 0a3.9 3.9 0 1 0 -7.8 0M1618.0 174.8a3.9 3.9 0 1 0 7.8 0a3.9 3.9 0 1 0 -7.8 0M1626.1 165.1a3.9 3.9 0 1 0 7.8 0a3.9 3.9 0 1 0 -7.8 0M1634.6 155.7a3.9 3.9 0 1 0 7.8 0a3.9 3.9 0 1 0 -7.8 0M1643.3 146.5a3.9 3.9 0 1 0 7.8 0a3.9 3.9 0 1 0 -7.8 0M1652.3 137.5a3.9 3.9 0 1 0 7.8 0a3.9 3.9 0 1 0 -7.8 0M1661.5 128.8a3.9 3.9 0 1 0 7.8 0a3.9 3.9 0 1 0 -7.8 0M1671.1 120.5a3.9 3.9 0 1 0 7.8 0a3.9 3.9 0 1 0 -7.8 0M1680.9 112.5a3.9 3.9 0 1 0 7.8 0a3.9 3.9 0 1 0 -7.8 0M1691.1 104.9a3.9 3.9 0 1 0 7.8 0a3.9 3.9 0 1 0 -7.8 0M1701.5 97.8a3.9 3.9 0 1 0 7.8 0a3.9 3.9 0 1 0 -7.8 0M1712.4 91.2a3.9 3.9 0 1 0 7.8 0a3.9 3.9 0 1 0 -7.8 0M1723.6 85.2a3.9 3.9 0 1 0 7.8 0a3.9 3.9 0 1 0 -7.8 0M1735.1 79.9a3.9 3.9 0 1 0 7.8 0a3.9 3.9 0 1 0 -7.8 0M1746.9 75.3a3.9 3.9 0 1 0 7.8 0a3.9 3.9 0 1 0 -7.8 0M1759.0 71.5a3.9 3.9 0 1 0 7.8 0a3.9 3.9 0 1 0 -7.8 0M1771.3 68.5a3.9 3.9 0 1 0 7.8 0a3.9 3.9 0 1 0 -7.8 0M1783.8 66.3a3.9 3.9 0 1 0 7.8 0a3.9 3.9 0 1 0 -7.8 0M1796.4 64.8a3.9 3.9 0 1 0 7.8 0a3.9 3.9 0 1 0 -7.8 0M1809.0 63.9a3.9 3.9 0 1 0 7.8 0a3.9 3.9 0 1 0 -7.8 0M1821.7 63.4a3.9 3.9 0 1 0 7.8 0a3.9 3.9 0 1 0 -7.8 0M1834.4 63.2a3.9 3.9 0 1 0 7.8 0a3.9 3.9 0 1 0 -7.8 0M1847.0 63.1a3.9 3.9 0 1 0 7.8 0a3.9 3.9 0 1 0 -7.8 0M1859.7 63.1a3.9 3.9 0 1 0 7.8 0a3.9 3.9 0 1 0 -7.8 0M1872.4 63.0a3.9 3.9 0 1 0 7.8 0a3.9 3.9 0 1 0 -7.8 0M1885.1 62.6a3.9 3.9 0 1 0 7.8 0a3.9 3.9 0 1 0 -7.8 0M1897.7 61.7a3.9 3.9 0 1 0 7.8 0a3.9 3.9 0 1 0 -7.8 0" fill="#ff0000"/><path d="M309.0 1400.4L309.5 1400.4L311.5 1400.2L313.5 1400.0L315.5 1399.8L317.6 1399.6L319.6 1399.4L321.6 1399.2L323.6 1399.0L325.6 1398.9L327.6 1398.7L329.6 1398.6L331.6 1398.4L333.7 1398.3L335.7 1398.1L337.7 1398.0L339.7 1397.9L341.7 1397.7L343.7 1397.6L345.7 1397.5L347.7 1397.4L348.4 1397.3M428.6 1394.6L428.6 1394.6L430.6 1394.5L432.6 1394.4L434.6 1394.4L436.6 1394.3L438.6 1394.2L440.6 1394.1L442.6 1394.1L444.6 1394.0L446.6 1393.9L448.6 1393.8L450.6 1393.7L452.6 1393.6L454.6 1393.5L456.6 1393.4L458.6 1393.3L460.6 1393.2L462.6 1393.1L464.6 1393.0L466.6 1392.9L468.5 1392.8M548.1 1383.2L548.1 1383.1L550.1 1382.7L552.0 1382.3L554.0 1381.9L555.9 1381.5L557.9 1381.0L559.8 1380.6L561.8 1380.1L563.7 1379.6L565.7 1379.2L567.6 1378.7L569.6 1378.2L571.5 1377.6L573.4 1377.1L575.3 1376.6L577.3 1376.0L579.2 1375.5L581.1 1374.9L583.0 1374.3L584.9 1373.7L586.8 1373.1M660.6 1342.1L660.9 1342.0L662.7 1341.1L664.4 1340.1L666.2 1339.2L668.0 1338.3L669.7 1337.4L671.5 1336.5L673.3 1335.5L675.0 1334.6L676.8 1333.6L678.5 1332.7L680.3 1331.7L682.1 1330.8L683.8 1329.8L685.5 1328.9L687.3 1327.9L689.0 1327.0L690.8 1326.0L692.5 1325.0L694.2 1324.0L695.8 1323.1M765.3 1283.1L765.8 1282.9L767.5 1282.0L769.2 1281.0L771.0 1280.1L772.7 1279.2L774.5 1278.3L776.2 1277.4L778.0 1276.5L779.7 1275.6L781.5 1274.7L783.3 1273.8L785.0 1272.9L786.8 1272.0L788.6 1271.1L790.4 1270.2L792.1 1269.3L793.9 1268.5L795.7 1267.6L797.5 1266.7L799.3 1265.9L801.0 1265.0M872.6 1229.0L873.0 1228.8L874.8 1227.8L876.5 1226.8L878.3 1225.8L880.0 1224.8L881.8 1223.8L883.5 1222.8L885.3 1221.8L887.0 1220.8L888.8 1219.8L890.5 1218.7L892.2 1217.7L894.0 1216.7L895.7 1215.7L897.4 1214.6L899.2 1213.6L900.9 1212.5L902.6 1211.5L904.3 1210.5L906.1 1209.4L907.1 1208.7M974.2 1164.9L974.6 1164.6L976.2 1163.5L977.8 1162.4L979.5 1161.2L981.1 1160.1L982.7 1159.0L984.3 1157.9L985.9 1156.7L987.6 1155.6L989.2 1154.5L990.8 1153.3L992.4 1152.2L994.0 1151.1L995.6 1149.9L997.2 1148.8L998.8 1147.7L1000.4 1146.5L1002.0 1145.4L1003.6 1144.2L1005.3 1143.1L1006.9 1141.9L1007.0 1141.8M1071.2 1093.8L1071.2 1093.7L1072.8 1092.5L1074.4 1091.3L1075.9 1090.0L1077.5 1088.8L1079.1 1087.5L1080.7 1086.3L1082.3 1085.0L1083.9 1083.8L1085.4 1082.5L1087.0 1081.3L1088.6 1080.0L1090.2 1078.7L1091.8 1077.5L1093.4 1076.2L1094.9 1074.9L1096.5 1073.7L1098.1 1072.4L1099.7 1071.1L1101.2 1069.8L1102.4 1068.8M1162.2 1015.4L1162.3 1015.3L1163.8 1013.9L1165.2 1012.5L1166.6 1011.0L1168.0 1009.6L1169.4 1008.2L1170.8 1006.8L1172.1 1005.3L1173.5 1003.9L1174.9 1002.4L1176.3 1001.0L1177.6 999.5L1179.0 998.1L1180.4 996.6L1181.7 995.2L1183.1 993.7L1184.4 992.2L1185.7 990.8L1187.1 989.3L1188.4 987.8L1189.7 986.4M1240.4 924.2L1240.5 924.1L1241.7 922.5L1242.9 920.9L1244.1 919.3L1245.3 917.7L1246.5 916.1L1247.7 914.5L1248.9 912.9L1250.1 911.3L1251.3 909.7L1252.4 908.1L1253.6 906.5L1254.8 904.9L1256.0 903.2L1257.2 901.6L1258.3 900.0L1259.5 898.4L1260.7 896.8L1261.8 895.1L1263.0 893.5L1264.1 892.0M1308.9 825.5L1309.0 825.4L1310.1 823.7L1311.2 822.0L1312.2 820.3L1313.3 818.6L1314.4 816.9L1315.4 815.2L1316.5 813.5L1317.6 811.8L1318.6 810.1L1319.7 808.4L1320.7 806.7L1321.8 805.0L1322.8 803.3L1323.9 801.6L1324.9 799.9L1326.0 798.2L1327.0 796.5L1328.1 794.8L1329.1 793.1L1330.0 791.6M1370.1 722.1L1370.3 721.8L1371.3 720.0L1372.2 718.3L1373.2 716.6L1374.1 714.8L1375.1 713.1L1376.1 711.3L1377.0 709.5L1378.0 707.8L1378.9 706.0L1379.9 704.3L1380.8 702.5L1381.8 700.8L1382.7 699.0L1383.7 697.3L1384.6 695.5L1385.5 693.8L1386.5 692.0L1387.4 690.2L1388.4 688.5L1389.2 686.9M1425.8 615.6L1426.0 615.3L1426.9 613.5L1427.8 611.7L1428.6 609.9L1429.5 608.2L1430.4 606.4L1431.3 604.6L1432.2 602.8L1433.1 601.0L1434.0 599.2L1434.8 597.4L1435.7 595.6L1436.6 593.8L1437.5 592.0L1438.4 590.3L1439.3 588.5L1440.1 586.7L1441.0 584.9L1441.9 583.1L1442.8 581.3L1443.5 579.7M1478.2 507.4L1478.3 507.4L1479.1 505.6L1480.0 503.8L1480.8 502.0L1481.7 500.2L1482.5 498.4L1483.4 496.6L1484.3 494.7L1485.1 492.9L1486.0 491.1L1486.8 489.3L1487.7 487.5L1488.5 485.7L1489.4 483.9L1490.3 482.1L1491.1 480.3L1492.0 478.5L1492.8 476.6L1493.7 474.8L1494.5 473.0L1495.4 471.3M1529.7 398.8L1529.8 398.7L1530.6 396.9L1531.5 395.1L1532.4 393.3L1533.2 391.4L1534.1 389.6L1535.0 387.8L1535.8 386.0L1536.7 384.2L1537.6 382.4L1538.5 380.6L1539.3 378.8L1540.2 376.9L1541.1 375.1L1541.9 373.3L1542.8 371.5L1543.7 369.7L1544.6 367.9L1545.4 366.1L1546.3 364.3L1547.0 362.8M1583.3 291.2L1583.5 290.8L1584.5 289.0L1585.4 287.2L1586.4 285.5L1587.3 283.7L1588.3 282.0L1589.2 280.2L1590.2 278.5L1591.2 276.7L1592.1 275.0L1593.1 273.2L1594.1 271.5L1595.1 269.7L1596.0 268.0L1597.0 266.2L1598.0 264.5L1599.0 262.8L1600.0 261.0L1601.0 259.3L1602.0 257.6L1602.7 256.3M1646.3 189.0L1646.4 188.7L1647.6 187.1L1648.8 185.6L1649.9 184.0L1651.1 182.4L1652.3 180.8L1653.5 179.2L1654.7 177.6L1655.9 176.1L1657.1 174.5L1658.3 172.9L1659.5 171.4L1660.7 169.8L1662.0 168.3L1663.2 166.7L1664.4 165.2L1665.7 163.6L1666.9 162.1L1668.2 160.6L1669.4 159.0L1670.7 157.5L1670.8 157.4M1728.6 102.2L1728.8 102.1L1730.4 101.0L1732.1 99.8L1733.8 98.7L1735.5 97.6L1737.2 96.6L1738.9 95.5L1740.7 94.5L1742.4 93.4L1744.2 92.4L1745.9 91.4L1747.7 90.4L1749.5 89.5L1751.3 88.5L1753.1 87.6L1754.9 86.7L1756.8 85.8L1758.6 85.0L1760.4 84.1L1762.3 83.3L1763.5 82.7M1841.2 64.3L1841.3 64.3L1843.3 64.1L1845.3 63.9L1847.3 63.7L1849.3 63.6L1851.3 63.4L1853.3 63.3L1855.3 63.2L1857.3 63.1L1859.3 63.0L1861.3 62.9L1863.3 62.8L1865.3 62.7L1867.3 62.6L1869.3 62.5L1871.3 62.5L1873.3 62.4L1875.3 62.4L1877.3 62.3L1879.3 62.3L1881.2 62.2" fill="none" stroke="#ff0000" stroke-width="7.5" stroke-linecap="round" stroke-linejoin="round"/><path d="M372.5 1396.1a3.9 3.9 0 1 0 7.8 0a3.9 3.9 0 1 0 -7.8 0M398.0 1395.3a3.9 3.9 0 1 0 7.8 0a3.9 3.9 0 1 0 -7.8 0M492.5 1390.6a3.9 3.9 0 1 0 7.8 0a3.9 3.9 0 1 0 -7.8 0M517.8 1387.6a3.9 3.9 0 1 0 7.8 0a3.9 3.9 0 1 0 -7.8 0M609.2 1363.7a3.9 3.9 0 1 0 7.8 0a3.9 3.9 0 1 0 -7.8 0M632.7 1353.7a3.9 3.9 0 1 0 7.8 0a3.9 3.9 0 1 0 -7.8 0M716.2 1309.2a3.9 3.9 0 1 0 7.8 0a3.9 3.9 0 1 0 -7.8 0M738.2 1296.3a3.9 3.9 0 1 0 7.8 0a3.9 3.9 0 1 0 -7.8 0M822.4 1252.9a3.9 3.9 0 1 0 7.8 0a3.9 3.9 0 1 0 -7.8 0M845.2 1241.6a3.9 3.9 0 1 0 7.8 0a3.9 3.9 0 1 0 -7.8 0M926.9 1193.8a3.9 3.9 0 1 0 7.8 0a3.9 3.9 0 1 0 -7.8 0M948.2 1179.8a3.9 3.9 0 1 0 7.8 0a3.9 3.9 0 1 0 -7.8 0M1025.7 1125.3a3.9 3.9 0 1 0 7.8 0a3.9 3.9 0 1 0 -7.8 0M1046.1 1110.0a3.9 3.9 0 1 0 7.8 0a3.9 3.9 0 1 0 -7.8 0M1120.0 1050.8a3.9 3.9 0 1 0 7.8 0a3.9 3.9 0 1 0 -7.8 0M1139.0 1033.9a3.9 3.9 0 1 0 7.8 0a3.9 3.9 0 1 0 -7.8 0M1204.1 965.2a3.9 3.9 0 1 0 7.8 0a3.9 3.9 0 1 0 -7.8 0M1220.2 945.4a3.9 3.9 0 1 0 7.8 0a3.9 3.9 0 1 0 -7.8 0M1276.2 869.1a3.9 3.9 0 1 0 7.8 0a3.9 3.9 0 1 0 -7.8 0M1290.5 847.9a3.9 3.9 0 1 0 7.8 0a3.9 3.9 0 1 0 -7.8 0M1340.4 767.5a3.9 3.9 0 1 0 7.8 0a3.9 3.9 0 1 0 -7.8 0M1353.2 745.4a3.9 3.9 0 1 0 7.8 0a3.9 3.9 0 1 0 -7.8 0M1398.3 662.1a3.9 3.9 0 1 0 7.8 0a3.9 3.9 0 1 0 -7.8 0M1409.9 639.5a3.9 3.9 0 1 0 7.8 0a3.9 3.9 0 1 0 -7.8 0M1451.8 554.5a3.9 3.9 0 1 0 7.8 0a3.9 3.9 0 1 0 -7.8 0M1462.9 531.5a3.9 3.9 0 1 0 7.8 0a3.9 3.9 0 1 0 -7.8 0M1503.4 446.0a3.9 3.9 0 1 0 7.8 0a3.9 3.9 0 1 0 -7.8 0M1514.3 422.9a3.9 3.9 0 1 0 7.8 0a3.9 3.9 0 1 0 -7.8 0M1555.5 337.6a3.9 3.9 0 1 0 7.8 0a3.9 3.9 0 1 0 -7.8 0M1567.0 314.9a3.9 3.9 0 1 0 7.8 0a3.9 3.9 0 1 0 -7.8 0M1613.3 232.3a3.9 3.9 0 1 0 7.8 0a3.9 3.9 0 1 0 -7.8 0M1627.1 210.9a3.9 3.9 0 1 0 7.8 0a3.9 3.9 0 1 0 -7.8 0M1685.5 136.4a3.9 3.9 0 1 0 7.8 0a3.9 3.9 0 1 0 -7.8 0M1703.8 118.7a3.9 3.9 0 1 0 7.8 0a3.9 3.9 0 1 0 -7.8 0M1786.0 73.4a3.9 3.9 0 1 0 7.8 0a3.9 3.9 0 1 0 -7.8 0M1810.9 67.8a3.9 3.9 0 1 0 7.8 0a3.9 3.9 0 1 0 -7.8 0" fill="#ff0000"/><path d="M309.3 1402.4L309.8 1402.4L311.7 1402.3L313.7 1402.2L315.7 1402.1L317.6 1402.0L319.6 1402.0L321.6 1401.9L323.5 1401.8L325.5 1401.7L327.5 1401.7L329.5 1401.6L331.4 1401.6L333.4 1401.5L335.4 1401.4L337.4 1401.4L339.4 1401.3L341.3 1401.3L343.3 1401.2L345.3 1401.2L347.3 1401.1L348.0 1401.1M428.2 1400.0L428.3 1400.0L430.3 1400.0L432.3 1399.9L434.3 1399.9L436.3 1399.9L438.3 1399.8L440.4 1399.8L442.4 1399.8L444.4 1399.7L446.4 1399.7L448.4 1399.6L450.4 1399.6L452.4 1399.5L454.4 1399.5L456.4 1399.4L458.4 1399.4L460.5 1399.3L462.5 1399.3L464.5 1399.2L466.5 1399.2L468.2 1399.1M548.3 1393.9L548.6 1393.9L550.6 1393.7L552.6 1393.5L554.6 1393.2L556.6 1393.0L558.6 1392.8L560.5 1392.5L562.5 1392.3L564.5 1392.0L566.5 1391.8L568.5 1391.5L570.5 1391.2L572.4 1390.9L574.4 1390.7L576.4 1390.4L578.4 1390.1L580.4 1389.8L582.3 1389.5L584.3 1389.2L586.3 1388.9L587.9 1388.6M666.0 1370.1L666.4 1369.9L668.3 1369.3L670.2 1368.7L672.1 1368.1L674.0 1367.5L675.9 1366.9L677.8 1366.3L679.7 1365.6L681.6 1365.0L683.5 1364.4L685.4 1363.7L687.3 1363.1L689.2 1362.4L691.1 1361.8L693.0 1361.1L694.8 1360.4L696.7 1359.7L698.6 1359.1L700.5 1358.4L702.3 1357.7L703.8 1357.1M777.4 1325.2L777.5 1325.2L779.2 1324.3L781.0 1323.4L782.8 1322.5L784.6 1321.7L786.3 1320.8L788.1 1319.9L789.9 1319.0L791.6 1318.1L793.4 1317.2L795.2 1316.3L796.9 1315.4L798.7 1314.5L800.5 1313.6L802.2 1312.6L804.0 1311.7L805.7 1310.8L807.5 1309.9L809.3 1308.9L811.0 1308.0L812.8 1307.1L813.0 1306.9M882.9 1267.4L883.3 1267.2L885.0 1266.1L886.7 1265.1L888.5 1264.1L890.2 1263.0L891.9 1262.0L893.7 1260.9L895.4 1259.9L897.1 1258.8L898.9 1257.8L900.6 1256.7L902.3 1255.7L904.1 1254.6L905.8 1253.6L907.5 1252.5L909.2 1251.4L911.0 1250.4L912.7 1249.3L914.4 1248.2L916.1 1247.2L917.0 1246.6M984.2 1202.7L984.5 1202.4L986.2 1201.3L987.8 1200.2L989.4 1199.1L991.0 1197.9L992.6 1196.8L994.3 1195.7L995.9 1194.6L997.5 1193.4L999.1 1192.3L1000.7 1191.2L1002.3 1190.0L1003.9 1188.9L1005.6 1187.8L1007.2 1186.6L1008.8 1185.5L1010.4 1184.3L1012.0 1183.2L1013.6 1182.0L1015.2 1180.9L1016.8 1179.7L1016.9 1179.7M1081.0 1131.4L1081.2 1131.3L1082.7 1130.1L1084.3 1128.8L1085.9 1127.6L1087.5 1126.3L1089.0 1125.1L1090.6 1123.8L1092.2 1122.5L1093.7 1121.3L1095.3 1120.0L1096.9 1118.7L1098.4 1117.5L1100.0 1116.2L1101.6 1114.9L1103.1 1113.6L1104.7 1112.3L1106.2 1111.0L1107.8 1109.7L1109.3 1108.4L1110.9 1107.1L1112.0 1106.1M1170.7 1051.5L1170.9 1051.3L1172.3 1049.8L1173.7 1048.4L1175.1 1047.0L1176.4 1045.5L1177.8 1044.0L1179.2 1042.6L1180.6 1041.1L1181.9 1039.7L1183.3 1038.2L1184.6 1036.7L1186.0 1035.2L1187.3 1033.8L1188.7 1032.3L1190.0 1030.8L1191.3 1029.3L1192.7 1027.8L1194.0 1026.3L1195.3 1024.8L1196.6 1023.3L1197.8 1022.0M1247.9 959.3L1248.1 959.0L1249.3 957.4L1250.5 955.8L1251.7 954.2L1252.8 952.6L1254.0 951.0L1255.2 949.4L1256.4 947.7L1257.5 946.1L1258.7 944.5L1259.8 942.9L1261.0 941.2L1262.2 939.6L1263.3 938.0L1264.5 936.3L1265.6 934.7L1266.8 933.1L1267.9 931.4L1269.1 929.8L1270.2 928.2L1271.1 926.8M1315.2 859.7L1315.3 859.6L1316.4 857.9L1317.4 856.2L1318.5 854.5L1319.6 852.8L1320.6 851.1L1321.7 849.4L1322.7 847.7L1323.8 846.0L1324.8 844.3L1325.9 842.6L1326.9 840.9L1328.0 839.2L1329.0 837.5L1330.0 835.8L1331.1 834.1L1332.1 832.3L1333.2 830.6L1334.2 828.9L1335.2 827.2L1336.2 825.6M1375.9 755.9L1376.0 755.7L1376.9 753.9L1377.9 752.2L1378.8 750.4L1379.7 748.7L1380.7 746.9L1381.6 745.2L1382.5 743.4L1383.4 741.6L1384.4 739.9L1385.3 738.1L1386.2 736.4L1387.1 734.6L1388.0 732.8L1389.0 731.1L1389.9 729.3L1390.8 727.6L1391.7 725.8L1392.6 724.0L1393.5 722.3L1394.4 720.5L1394.4 720.5M1430.0 648.5L1430.0 648.4L1430.9 646.6L1431.8 644.8L1432.6 643.1L1433.5 641.3L1434.4 639.5L1435.2 637.7L1436.1 635.9L1437.0 634.1L1437.8 632.3L1438.7 630.5L1439.5 628.7L1440.4 626.9L1441.3 625.1L1442.1 623.3L1443.0 621.5L1443.9 619.7L1444.7 617.9L1445.6 616.1L1446.4 614.3L1447.3 612.5L1447.3 612.5M1481.7 540.0L1481.9 539.7L1482.7 537.9L1483.6 536.0L1484.4 534.2L1485.3 532.4L1486.1 530.6L1487.0 528.8L1487.8 527.0L1488.7 525.1L1489.6 523.3L1490.4 521.5L1491.3 519.7L1492.1 517.9L1493.0 516.0L1493.8 514.2L1494.7 512.4L1495.5 510.6L1496.4 508.8L1497.2 506.9L1498.1 505.1L1498.7 503.8M1532.7 431.0L1532.8 430.8L1533.6 429.0L1534.5 427.2L1535.3 425.3L1536.2 423.5L1537.0 421.7L1537.9 419.9L1538.7 418.0L1539.6 416.2L1540.4 414.4L1541.3 412.6L1542.1 410.7L1542.9 408.9L1543.8 407.1L1544.6 405.3L1545.5 403.4L1546.3 401.6L1547.2 399.8L1548.0 397.9L1548.9 396.1L1549.5 394.7M1583.7 322.2L1583.8 322.1L1584.6 320.3L1585.5 318.5L1586.4 316.7L1587.3 314.9L1588.2 313.1L1589.1 311.4L1590.0 309.6L1590.9 307.8L1591.8 306.0L1592.7 304.2L1593.6 302.4L1594.5 300.6L1595.4 298.9L1596.3 297.1L1597.2 295.3L1598.1 293.5L1599.0 291.8L1599.9 290.0L1600.9 288.2L1601.8 286.5L1601.8 286.5M1642.0 217.0L1642.1 217.0L1643.2 215.3L1644.3 213.7L1645.3 212.0L1646.4 210.4L1647.5 208.7L1648.6 207.1L1649.8 205.4L1650.9 203.8L1652.0 202.2L1653.1 200.6L1654.3 198.9L1655.4 197.3L1656.5 195.7L1657.7 194.1L1658.8 192.5L1660.0 190.9L1661.2 189.3L1662.3 187.7L1663.5 186.1L1664.7 184.5L1664.9 184.2M1718.2 124.4L1718.5 124.1L1720.0 122.8L1721.5 121.4L1723.0 120.1L1724.5 118.8L1726.0 117.5L1727.5 116.3L1729.1 115.0L1730.6 113.7L1732.2 112.5L1733.8 111.2L1735.4 110.0L1737.0 108.8L1738.6 107.6L1740.2 106.4L1741.8 105.2L1743.5 104.1L1745.1 102.9L1746.8 101.8L1748.4 100.7L1749.7 99.8M1823.0 68.1L1823.3 68.0L1825.2 67.6L1827.2 67.2L1829.2 66.7L1831.2 66.3L1833.1 66.0L1835.1 65.6L1837.1 65.3L1839.1 64.9L1841.1 64.6L1843.1 64.3L1845.1 64.1L1847.1 63.8L1849.1 63.6L1851.1 63.4L1853.1 63.2L1855.1 63.0L1857.1 62.8L1859.1 62.7L1861.1 62.6L1862.5 62.5" fill="none" stroke="#000000" stroke-width="7.5" stroke-linecap="round" stroke-linejoin="round"/><path d="M372.1 1400.7a3.9 3.9 0 1 0 7.8 0a3.9 3.9 0 1 0 -7.8 0M397.6 1400.3a3.9 3.9 0 1 0 7.8 0a3.9 3.9 0 1 0 -7.8 0M492.3 1397.9a3.9 3.9 0 1 0 7.8 0a3.9 3.9 0 1 0 -7.8 0M517.8 1396.3a3.9 3.9 0 1 0 7.8 0a3.9 3.9 0 1 0 -7.8 0M611.5 1383.3a3.9 3.9 0 1 0 7.8 0a3.9 3.9 0 1 0 -7.8 0M636.3 1377.4a3.9 3.9 0 1 0 7.8 0a3.9 3.9 0 1 0 -7.8 0M726.0 1346.8a3.9 3.9 0 1 0 7.8 0a3.9 3.9 0 1 0 -7.8 0M749.3 1336.6a3.9 3.9 0 1 0 7.8 0a3.9 3.9 0 1 0 -7.8 0M833.7 1293.5a3.9 3.9 0 1 0 7.8 0a3.9 3.9 0 1 0 -7.8 0M855.9 1280.9a3.9 3.9 0 1 0 7.8 0a3.9 3.9 0 1 0 -7.8 0M936.8 1231.6a3.9 3.9 0 1 0 7.8 0a3.9 3.9 0 1 0 -7.8 0M958.1 1217.6a3.9 3.9 0 1 0 7.8 0a3.9 3.9 0 1 0 -7.8 0M1035.6 1163.1a3.9 3.9 0 1 0 7.8 0a3.9 3.9 0 1 0 -7.8 0M1056.0 1147.8a3.9 3.9 0 1 0 7.8 0a3.9 3.9 0 1 0 -7.8 0M1129.2 1087.8a3.9 3.9 0 1 0 7.8 0a3.9 3.9 0 1 0 -7.8 0M1147.9 1070.4a3.9 3.9 0 1 0 7.8 0a3.9 3.9 0 1 0 -7.8 0M1211.9 1000.6a3.9 3.9 0 1 0 7.8 0a3.9 3.9 0 1 0 -7.8 0M1227.8 980.7a3.9 3.9 0 1 0 7.8 0a3.9 3.9 0 1 0 -7.8 0M1283.0 903.6a3.9 3.9 0 1 0 7.8 0a3.9 3.9 0 1 0 -7.8 0M1296.9 882.3a3.9 3.9 0 1 0 7.8 0a3.9 3.9 0 1 0 -7.8 0M1346.5 801.5a3.9 3.9 0 1 0 7.8 0a3.9 3.9 0 1 0 -7.8 0M1359.1 779.4a3.9 3.9 0 1 0 7.8 0a3.9 3.9 0 1 0 -7.8 0M1403.1 695.5a3.9 3.9 0 1 0 7.8 0a3.9 3.9 0 1 0 -7.8 0M1414.4 672.6a3.9 3.9 0 1 0 7.8 0a3.9 3.9 0 1 0 -7.8 0M1455.5 587.2a3.9 3.9 0 1 0 7.8 0a3.9 3.9 0 1 0 -7.8 0M1466.4 564.2a3.9 3.9 0 1 0 7.8 0a3.9 3.9 0 1 0 -7.8 0M1506.7 478.4a3.9 3.9 0 1 0 7.8 0a3.9 3.9 0 1 0 -7.8 0M1517.5 455.3a3.9 3.9 0 1 0 7.8 0a3.9 3.9 0 1 0 -7.8 0M1557.4 369.3a3.9 3.9 0 1 0 7.8 0a3.9 3.9 0 1 0 -7.8 0M1568.2 346.3a3.9 3.9 0 1 0 7.8 0a3.9 3.9 0 1 0 -7.8 0M1611.2 261.8a3.9 3.9 0 1 0 7.8 0a3.9 3.9 0 1 0 -7.8 0M1624.0 239.7a3.9 3.9 0 1 0 7.8 0a3.9 3.9 0 1 0 -7.8 0M1678.3 162.3a3.9 3.9 0 1 0 7.8 0a3.9 3.9 0 1 0 -7.8 0M1695.2 143.1a3.9 3.9 0 1 0 7.8 0a3.9 3.9 0 1 0 -7.8 0M1770.0 85.8a3.9 3.9 0 1 0 7.8 0a3.9 3.9 0 1 0 -7.8 0M1793.4 75.8a3.9 3.9 0 1 0 7.8 0a3.9 3.9 0 1 0 -7.8 0M1886.6 63.0a3.9 3.9 0 1 0 7.8 0a3.9 3.9 0 1 0 -7.8 0" fill="#000000"/><path d="M311.0 1401.8a3.9 3.9 0 1 0 7.8 0a3.9 3.9 0 1 0 -7.8 0M323.7 1401.6a3.9 3.9 0 1 0 7.8 0a3.9 3.9 0 1 0 -7.8 0M336.4 1401.4a3.9 3.9 0 1 0 7.8 0a3.9 3.9 0 1 0 -7.8 0M349.1 1401.3a3.9 3.9 0 1 0 7.8 0a3.9 3.9 0 1 0 -7.8 0M361.7 1401.2a3.9 3.9 0 1 0 7.8 0a3.9 3.9 0 1 0 -7.8 0M374.4 1401.1a3.9 3.9 0 1 0 7.8 0a3.9 3.9 0 1 0 -7.8 0M387.1 1401.0a3.9 3.9 0 1 0 7.8 0a3.9 3.9 0 1 0 -7.8 0M399.8 1400.9a3.9 3.9 0 1 0 7.8 0a3.9 3.9 0 1 0 -7.8 0M412.5 1400.7a3.9 3.9 0 1 0 7.8 0a3.9 3.9 0 1 0 -7.8 0M425.1 1400.5a3.9 3.9 0 1 0 7.8 0a3.9 3.9 0 1 0 -7.8 0M437.8 1400.3a3.9 3.9 0 1 0 7.8 0a3.9 3.9 0 1 0 -7.8 0M450.5 1399.9a3.9 3.9 0 1 0 7.8 0a3.9 3.9 0 1 0 -7.8 0M463.2 1399.5a3.9 3.9 0 1 0 7.8 0a3.9 3.9 0 1 0 -7.8 0M475.8 1399.0a3.9 3.9 0 1 0 7.8 0a3.9 3.9 0 1 0 -7.8 0M488.5 1398.3a3.9 3.9 0 1 0 7.8 0a3.9 3.9 0 1 0 -7.8 0M501.2 1397.5a3.9 3.9 0 1 0 7.8 0a3.9 3.9 0 1 0 -7.8 0M513.8 1396.6a3.9 3.9 0 1 0 7.8 0a3.9 3.9 0 1 0 -7.8 0M526.4 1395.5a3.9 3.9 0 1 0 7.8 0a3.9 3.9 0 1 0 -7.8 0M539.0 1394.2a3.9 3.9 0 1 0 7.8 0a3.9 3.9 0 1 0 -7.8 0M551.6 1392.7a3.9 3.9 0 1 0 7.8 0a3.9 3.9 0 1 0 -7.8 0M564.2 1391.0a3.9 3.9 0 1 0 7.8 0a3.9 3.9 0 1 0 -7.8 0M576.7 1389.1a3.9 3.9 0 1 0 7.8 0a3.9 3.9 0 1 0 -7.8 0M589.2 1386.9a3.9 3.9 0 1 0 7.8 0a3.9 3.9 0 1 0 -7.8 0M601.7 1384.5a3.9 3.9 0 1 0 7.8 0a3.9 3.9 0 1 0 -7.8 0M614.1 1381.8a3.9 3.9 0 1 0 7.8 0a3.9 3.9 0 1 0 -7.8 0M626.4 1378.9a3.9 3.9 0 1 0 7.8 0a3.9 3.9 0 1 0 -7.8 0M638.7 1375.7a3.9 3.9 0 1 0 7.8 0a3.9 3.9 0 1 0 -7.8 0M650.9 1372.4a3.9 3.9 0 1 0 7.8 0a3.9 3.9 0 1 0 -7.8 0M663.1 1368.8a3.9 3.9 0 1 0 7.8 0a3.9 3.9 0 1 0 -7.8 0M675.2 1365.0a3.9 3.9 0 1 0 7.8 0a3.9 3.9 0 1 0 -7.8 0M687.3 1361.1a3.9 3.9 0 1 0 7.8 0a3.9 3.9 0 1 0 -7.8 0M699.3 1357.1a3.9 3.9 0 1 0 7.8 0a3.9 3.9 0 1 0 -7.8 0M711.2 1352.9a3.9 3.9 0 1 0 7.8 0a3.9 3.9 0 1 0 -7.8 0M723.2 1348.6a3.9 3.9 0 1 0 7.8 0a3.9 3.9 0 1 0 -7.8 0M735.1 1344.2a3.9 3.9 0 1 0 7.8 0a3.9 3.9 0 1 0 -7.8 0M746.9 1339.8a3.9 3.9 0 1 0 7.8 0a3.9 3.9 0 1 0 -7.8 0M758.8 1335.3a3.9 3.9 0 1 0 7.8 0a3.9 3.9 0 1 0 -7.8 0M770.6 1330.7a3.9 3.9 0 1 0 7.8 0a3.9 3.9 0 1 0 -7.8 0M782.4 1326.0a3.9 3.9 0 1 0 7.8 0a3.9 3.9 0 1 0 -7.8 0M794.1 1321.2a3.9 3.9 0 1 0 7.8 0a3.9 3.9 0 1 0 -7.8 0M805.9 1316.4a3.9 3.9 0 1 0 7.8 0a3.9 3.9 0 1 0 -7.8 0M817.6 1311.5a3.9 3.9 0 1 0 7.8 0a3.9 3.9 0 1 0 -7.8 0M829.2 1306.5a3.9 3.9 0 1 0 7.8 0a3.9 3.9 0 1 0 -7.8 0M840.9 1301.5a3.9 3.9 0 1 0 7.8 0a3.9 3.9 0 1 0 -7.8 0M852.5 1296.4a3.9 3.9 0 1 0 7.8 0a3.9 3.9 0 1 0 -7.8 0M864.1 1291.2a3.9 3.9 0 1 0 7.8 0a3.9 3.9 0 1 0 -7.8 0M875.6 1286.0a3.9 3.9 0 1 0 7.8 0a3.9 3.9 0 1 0 -7.8 0M887.1 1280.6a3.9 3.9 0 1 0 7.8 0a3.9 3.9 0 1 0 -7.8 0M898.6 1275.3a3.9 3.9 0 1 0 7.8 0a3.9 3.9 0 1 0 -7.8 0M910.0 1269.8a3.9 3.9 0 1 0 7.8 0a3.9 3.9 0 1 0 -7.8 0M921.4 1264.2a3.9 3.9 0 1 0 7.8 0a3.9 3.9 0 1 0 -7.8 0M932.8 1258.6a3.9 3.9 0 1 0 7.8 0a3.9 3.9 0 1 0 -7.8 0M944.1 1252.8a3.9 3.9 0 1 0 7.8 0a3.9 3.9 0 1 0 -7.8 0M955.3 1247.0a3.9 3.9 0 1 0 7.8 0a3.9 3.9 0 1 0 -7.8 0M966.5 1241.0a3.9 3.9 0 1 0 7.8 0a3.9 3.9 0 1 0 -7.8 0M977.7 1235.0a3.9 3.9 0 1 0 7.8 0a3.9 3.9 0 1 0 -7.8 0M988.7 1228.8a3.9 3.9 0 1 0 7.8 0a3.9 3.9 0 1 0 -7.8 0M999.8 1222.5a3.9 3.9 0 1 0 7.8 0a3.9 3.9 0 1 0 -7.8 0M1010.7 1216.2a3.9 3.9 0 1 0 7.8 0a3.9 3.9 0 1 0 -7.8 0M1021.6 1209.7a3.9 3.9 0 1 0 7.8 0a3.9 3.9 0 1 0 -7.8 0M1032.5 1203.1a3.9 3.9 0 1 0 7.8 0a3.9 3.9 0 1 0 -7.8 0M1043.2 1196.4a3.9 3.9 0 1 0 7.8 0a3.9 3.9 0 1 0 -7.8 0M1054.0 1189.6a3.9 3.9 0 1 0 7.8 0a3.9 3.9 0 1 0 -7.8 0M1064.6 1182.8a3.9 3.9 0 1 0 7.8 0a3.9 3.9 0 1 0 -7.8 0M1075.2 1175.8a3.9 3.9 0 1 0 7.8 0a3.9 3.9 0 1 0 -7.8 0M1085.7 1168.7a3.9 3.9 0 1 0 7.8 0a3.9 3.9 0 1 0 -7.8 0M1096.1 1161.5a3.9 3.9 0 1 0 7.8 0a3.9 3.9 0 1 0 -7.8 0M1106.5 1154.1a3.9 3.9 0 1 0 7.8 0a3.9 3.9 0 1 0 -7.8 0M1116.7 1146.6a3.9 3.9 0 1 0 7.8 0a3.9 3.9 0 1 0 -7.8 0M1126.7 1138.9a3.9 3.9 0 1 0 7.8 0a3.9 3.9 0 1 0 -7.8 0M1136.7 1131.0a3.9 3.9 0 1 0 7.8 0a3.9 3.9 0 1 0 -7.8 0M1146.5 1123.0a3.9 3.9 0 1 0 7.8 0a3.9 3.9 0 1 0 -7.8 0M1156.2 1114.8a3.9 3.9 0 1 0 7.8 0a3.9 3.9 0 1 0 -7.8 0M1165.7 1106.4a3.9 3.9 0 1 0 7.8 0a3.9 3.9 0 1 0 -7.8 0M1175.1 1097.9a3.9 3.9 0 1 0 7.8 0a3.9 3.9 0 1 0 -7.8 0M1184.3 1089.2a3.9 3.9 0 1 0 7.8 0a3.9 3.9 0 1 0 -7.8 0M1193.4 1080.3a3.9 3.9 0 1 0 7.8 0a3.9 3.9 0 1 0 -7.8 0M1202.3 1071.3a3.9 3.9 0 1 0 7.8 0a3.9 3.9 0 1 0 -7.8 0M1211.0 1062.1a3.9 3.9 0 1 0 7.8 0a3.9 3.9 0 1 0 -7.8 0M1219.6 1052.8a3.9 3.9 0 1 0 7.8 0a3.9 3.9 0 1 0 -7.8 0M1228.0 1043.3a3.9 3.9 0 1 0 7.8 0a3.9 3.9 0 1 0 -7.8 0M1236.3 1033.7a3.9 3.9 0 1 0 7.8 0a3.9 3.9 0 1 0 -7.8 0M1244.4 1023.9a3.9 3.9 0 1 0 7.8 0a3.9 3.9 0 1 0 -7.8 0M1252.3 1014.1a3.9 3.9 0 1 0 7.8 0a3.9 3.9 0 1 0 -7.8 0M1260.1 1004.1a3.9 3.9 0 1 0 7.8 0a3.9 3.9 0 1 0 -7.8 0M1267.8 994.0a3.9 3.9 0 1 0 7.8 0a3.9 3.9 0 1 0 -7.8 0M1275.3 983.8a3.9 3.9 0 1 0 7.8 0a3.9 3.9 0 1 0 -7.8 0M1282.7 973.5a3.9 3.9 0 1 0 7.8 0a3.9 3.9 0 1 0 -7.8 0M1290.0 963.1a3.9 3.9 0 1 0 7.8 0a3.9 3.9 0 1 0 -7.8 0M1297.1 952.6a3.9 3.9 0 1 0 7.8 0a3.9 3.9 0 1 0 -7.8 0M1304.2 942.0a3.9 3.9 0 1 0 7.8 0a3.9 3.9 0 1 0 -7.8 0M1311.1 931.4a3.9 3.9 0 1 0 7.8 0a3.9 3.9 0 1 0 -7.8 0M1317.9 920.7a3.9 3.9 0 1 0 7.8 0a3.9 3.9 0 1 0 -7.8 0M1324.6 910.0a3.9 3.9 0 1 0 7.8 0a3.9 3.9 0 1 0 -7.8 0M1331.2 899.2a3.9 3.9 0 1 0 7.8 0a3.9 3.9 0 1 0 -7.8 0M1337.8 888.3a3.9 3.9 0 1 0 7.8 0a3.9 3.9 0 1 0 -7.8 0M1344.2 877.4a3.9 3.9 0 1 0 7.8 0a3.9 3.9 0 1 0 -7.8 0M1350.6 866.4a3.9 3.9 0 1 0 7.8 0a3.9 3.9 0 1 0 -7.8 0M1356.9 855.4a3.9 3.9 0 1 0 7.8 0a3.9 3.9 0 1 0 -7.8 0M1363.2 844.4a3.9 3.9 0 1 0 7.8 0a3.9 3.9 0 1 0 -7.8 0M1369.3 833.3a3.9 3.9 0 1 0 7.8 0a3.9 3.9 0 1 0 -7.8 0M1375.4 822.2a3.9 3.9 0 1 0 7.8 0a3.9 3.9 0 1 0 -7.8 0M1381.5 811.0a3.9 3.9 0 1 0 7.8 0a3.9 3.9 0 1 0 -7.8 0M1387.5 799.9a3.9 3.9 0 1 0 7.8 0a3.9 3.9 0 1 0 -7.8 0M1393.4 788.7a3.9 3.9 0 1 0 7.8 0a3.9 3.9 0 1 0 -7.8 0M1399.2 777.4a3.9 3.9 0 1 0 7.8 0a3.9 3.9 0 1 0 -7.8 0M1405.1 766.1a3.9 3.9 0 1 0 7.8 0a3.9 3.9 0 1 0 -7.8 0M1410.8 754.8a3.9 3.9 0 1 0 7.8 0a3.9 3.9 0 1 0 -7.8 0M1416.5 743.5a3.9 3.9 0 1 0 7.8 0a3.9 3.9 0 1 0 -7.8 0M1422.2 732.2a3.9 3.9 0 1 0 7.8 0a3.9 3.9 0 1 0 -7.8 0M1427.8 720.8a3.9 3.9 0 1 0 7.8 0a3.9 3.9 0 1 0 -7.8 0M1433.4 709.4a3.9 3.9 0 1 0 7.8 0a3.9 3.9 0 1 0 -7.8 0M1438.9 698.0a3.9 3.9 0 1 0 7.8 0a3.9 3.9 0 1 0 -7.8 0M1444.4 686.6a3.9 3.9 0 1 0 7.8 0a3.9 3.9 0 1 0 -7.8 0M1449.9 675.1a3.9 3.9 0 1 0 7.8 0a3.9 3.9 0 1 0 -7.8 0M1455.3 663.7a3.9 3.9 0 1 0 7.8 0a3.9 3.9 0 1 0 -7.8 0M1460.7 652.2a3.9 3.9 0 1 0 7.8 0a3.9 3.9 0 1 0 -7.8 0M1466.0 640.7a3.9 3.9 0 1 0 7.8 0a3.9 3.9 0 1 0 -7.8 0M1471.4 629.2a3.9 3.9 0 1 0 7.8 0a3.9 3.9 0 1 0 -7.8 0M1476.7 617.7a3.9 3.9 0 1 0 7.8 0a3.9 3.9 0 1 0 -7.8 0M1482.0 606.2a3.9 3.9 0 1 0 7.8 0a3.9 3.9 0 1 0 -7.8 0M1487.2 594.6a3.9 3.9 0 1 0 7.8 0a3.9 3.9 0 1 0 -7.8 0M1492.5 583.1a3.9 3.9 0 1 0 7.8 0a3.9 3.9 0 1 0 -7.8 0M1497.7 571.5a3.9 3.9 0 1 0 7.8 0a3.9 3.9 0 1 0 -7.8 0M1502.9 560.0a3.9 3.9 0 1 0 7.8 0a3.9 3.9 0 1 0 -7.8 0M1508.1 548.4a3.9 3.9 0 1 0 7.8 0a3.9 3.9 0 1 0 -7.8 0M1513.3 536.8a3.9 3.9 0 1 0 7.8 0a3.9 3.9 0 1 0 -7.8 0M1518.5 525.3a3.9 3.9 0 1 0 7.8 0a3.9 3.9 0 1 0 -7.8 0M1523.7 513.7a3.9 3.9 0 1 0 7.8 0a3.9 3.9 0 1 0 -7.8 0M1528.9 502.1a3.9 3.9 0 1 0 7.8 0a3.9 3.9 0 1 0 -7.8 0M1534.0 490.5a3.9 3.9 0 1 0 7.8 0a3.9 3.9 0 1 0 -7.8 0M1539.2 479.0a3.9 3.9 0 1 0 7.8 0a3.9 3.9 0 1 0 -7.8 0M1544.4 467.4a3.9 3.9 0 1 0 7.8 0a3.9 3.9 0 1 0 -7.8 0M1549.6 455.8a3.9 3.9 0 1 0 7.8 0a3.9 3.9 0 1 0 -7.8 0M1554.8 444.3a3.9 3.9 0 1 0 7.8 0a3.9 3.9 0 1 0 -7.8 0M1560.0 432.7a3.9 3.9 0 1 0 7.8 0a3.9 3.9 0 1 0 -7.8 0M1565.2 421.1a3.9 3.9 0 1 0 7.8 0a3.9 3.9 0 1 0 -7.8 0M1570.4 409.6a3.9 3.9 0 1 0 7.8 0a3.9 3.9 0 1 0 -7.8 0M1575.7 398.1a3.9 3.9 0 1 0 7.8 0a3.9 3.9 0 1 0 -7.8 0M1581.0 386.5a3.9 3.9 0 1 0 7.8 0a3.9 3.9 0 1 0 -7.8 0M1586.3 375.0a3.9 3.9 0 1 0 7.8 0a3.9 3.9 0 1 0 -7.8 0M1591.6 363.5a3.9 3.9 0 1 0 7.8 0a3.9 3.9 0 1 0 -7.8 0M1597.0 352.0a3.9 3.9 0 1 0 7.8 0a3.9 3.9 0 1 0 -7.8 0M1602.4 340.5a3.9 3.9 0 1 0 7.8 0a3.9 3.9 0 1 0 -7.8 0M1607.8 329.1a3.9 3.9 0 1 0 7.8 0a3.9 3.9 0 1 0 -7.8 0M1613.3 317.7a3.9 3.9 0 1 0 7.8 0a3.9 3.9 0 1 0 -7.8 0M1618.9 306.3a3.9 3.9 0 1 0 7.8 0a3.9 3.9 0 1 0 -7.8 0M1624.5 294.9a3.9 3.9 0 1 0 7.8 0a3.9 3.9 0 1 0 -7.8 0M1630.2 283.6a3.9 3.9 0 1 0 7.8 0a3.9 3.9 0 1 0 -7.8 0M1636.0 272.3a3.9 3.9 0 1 0 7.8 0a3.9 3.9 0 1 0 -7.8 0M1641.9 261.1a3.9 3.9 0 1 0 7.8 0a3.9 3.9 0 1 0 -7.8 0M1647.9 249.9a3.9 3.9 0 1 0 7.8 0a3.9 3.9 0 1 0 -7.8 0M1654.1 238.8a3.9 3.9 0 1 0 7.8 0a3.9 3.9 0 1 0 -7.8 0M1660.4 227.9a3.9 3.9 0 1 0 7.8 0a3.9 3.9 0 1 0 -7.8 0M1667.0 217.0a3.9 3.9 0 1 0 7.8 0a3.9 3.9 0 1 0 -7.8 0M1673.7 206.3a3.9 3.9 0 1 0 7.8 0a3.9 3.9 0 1 0 -7.8 0M1680.8 195.7a3.9 3.9 0 1 0 7.8 0a3.9 3.9 0 1 0 -7.8 0M1688.1 185.4a3.9 3.9 0 1 0 7.8 0a3.9 3.9 0 1 0 -7.8 0M1695.6 175.2a3.9 3.9 0 1 0 7.8 0a3.9 3.9 0 1 0 -7.8 0M1703.5 165.2a3.9 3.9 0 1 0 7.8 0a3.9 3.9 0 1 0 -7.8 0M1711.7 155.5a3.9 3.9 0 1 0 7.8 0a3.9 3.9 0 1 0 -7.8 0M1720.1 146.1a3.9 3.9 0 1 0 7.8 0a3.9 3.9 0 1 0 -7.8 0M1728.9 137.0a3.9 3.9 0 1 0 7.8 0a3.9 3.9 0 1 0 -7.8 0M1738.1 128.2a3.9 3.9 0 1 0 7.8 0a3.9 3.9 0 1 0 -7.8 0M1747.6 119.8a3.9 3.9 0 1 0 7.8 0a3.9 3.9 0 1 0 -7.8 0M1757.4 111.8a3.9 3.9 0 1 0 7.8 0a3.9 3.9 0 1 0 -7.8 0M1767.6 104.3a3.9 3.9 0 1 0 7.8 0a3.9 3.9 0 1 0 -7.8 0M1778.2 97.3a3.9 3.9 0 1 0 7.8 0a3.9 3.9 0 1 0 -7.8 0M1789.1 90.8a3.9 3.9 0 1 0 7.8 0a3.9 3.9 0 1 0 -7.8 0M1800.4 85.0a3.9 3.9 0 1 0 7.8 0a3.9 3.9 0 1 0 -7.8 0M1811.9 79.8a3.9 3.9 0 1 0 7.8 0a3.9 3.9 0 1 0 -7.8 0M1823.8 75.4a3.9 3.9 0 1 0 7.8 0a3.9 3.9 0 1 0 -7.8 0M1836.0 71.7a3.9 3.9 0 1 0 7.8 0a3.9 3.9 0 1 0 -7.8 0M1848.3 68.8a3.9 3.9 0 1 0 7.8 0a3.9 3.9 0 1 0 -7.8 0M1860.8 66.8a3.9 3.9 0 1 0 7.8 0a3.9 3.9 0 1 0 -7.8 0M1873.4 65.7a3.9 3.9 0 1 0 7.8 0a3.9 3.9 0 1 0 -7.8 0M1886.1 65.5a3.9 3.9 0 1 0 7.8 0a3.9 3.9 0 1 0 -7.8 0" fill="#000000"/><path d="M309.2 1401.4L309.7 1401.4L311.6 1401.5L313.6 1401.5L315.6 1401.5L317.6 1401.5L319.5 1401.5L321.5 1401.5L322.4 1401.5M348.7 1401.7L348.8 1401.7L350.8 1401.7L352.8 1401.7L354.8 1401.7L356.8 1401.7L358.8 1401.7L360.8 1401.7L362.8 1401.7L364.8 1401.7L366.7 1401.7M393.0 1401.5L393.3 1401.5L395.3 1401.5L397.3 1401.5L399.3 1401.5L401.3 1401.4L403.3 1401.4L405.3 1401.4L407.3 1401.4L409.3 1401.3L411.0 1401.3M437.3 1400.6L437.4 1400.6L439.4 1400.6L441.4 1400.5L443.4 1400.4L445.5 1400.4L447.5 1400.3L449.5 1400.2L451.5 1400.1L453.5 1400.0L455.3 1400.0M481.6 1398.6L481.6 1398.6L483.6 1398.5L485.6 1398.4L487.6 1398.2L489.6 1398.1L491.6 1398.0L493.6 1397.8L495.6 1397.7L497.6 1397.5L499.5 1397.4M525.7 1395.2L526.1 1395.1L528.1 1394.9L530.1 1394.7L532.1 1394.5L534.1 1394.3L536.1 1394.1L538.1 1393.9L540.1 1393.7L542.1 1393.4L543.6 1393.2M569.7 1389.9L569.8 1389.9L571.8 1389.6L573.8 1389.3L575.8 1389.0L577.7 1388.7L579.7 1388.4L581.7 1388.1L583.7 1387.8L585.6 1387.4L587.5 1387.1M613.4 1382.4L613.6 1382.4L615.5 1382.0L617.5 1381.6L619.4 1381.2L621.4 1380.8L623.3 1380.4L625.3 1380.0L627.2 1379.5L629.2 1379.1L631.0 1378.7M656.5 1372.5L656.7 1372.4L658.6 1371.9L660.5 1371.4L662.5 1370.9L664.4 1370.3L666.3 1369.8L668.2 1369.3L670.1 1368.7L672.0 1368.2L673.9 1367.6M698.9 1359.6L699.0 1359.6L700.9 1358.9L702.8 1358.3L704.7 1357.6L706.5 1356.9L708.4 1356.3L710.3 1355.6L712.1 1354.9L714.0 1354.2L715.9 1353.5M740.4 1343.9L740.5 1343.9L742.3 1343.2L744.2 1342.4L746.0 1341.7L747.9 1340.9L749.7 1340.1L751.6 1339.4L753.4 1338.6L755.3 1337.9L757.0 1337.1M781.4 1327.2L781.6 1327.1L783.4 1326.4L785.2 1325.6L787.1 1324.9L788.9 1324.1L790.8 1323.4L792.6 1322.6L794.5 1321.9L796.3 1321.1L798.1 1320.5M822.4 1310.6L822.6 1310.5L824.5 1309.8L826.3 1309.0L828.2 1308.2L830.0 1307.5L831.9 1306.7L833.7 1306.0L835.6 1305.2L837.4 1304.5L839.1 1303.8M863.3 1293.5L863.6 1293.3L865.4 1292.5L867.3 1291.7L869.1 1290.9L870.9 1290.1L872.8 1289.3L874.6 1288.5L876.4 1287.7L878.3 1286.8L879.7 1286.2M903.6 1275.0L903.8 1274.9L905.6 1274.1L907.4 1273.2L909.2 1272.3L911.0 1271.4L912.8 1270.6L914.6 1269.7L916.4 1268.8L918.2 1267.9L919.7 1267.1M943.2 1255.2L943.3 1255.1L945.1 1254.2L946.9 1253.2L948.7 1252.3L950.4 1251.3L952.2 1250.4L954.0 1249.5L955.7 1248.5L957.5 1247.6L959.1 1246.7M982.1 1234.0L982.4 1233.8L984.1 1232.8L985.9 1231.9L987.6 1230.9L989.3 1229.9L991.0 1228.9L992.8 1227.9L994.5 1226.9L996.2 1225.9L997.7 1225.1M1020.3 1211.7L1020.4 1211.6L1022.1 1210.6L1023.8 1209.6L1025.5 1208.6L1027.2 1207.6L1028.9 1206.5L1030.6 1205.5L1032.3 1204.5L1034.0 1203.5L1035.7 1202.5L1035.8 1202.4M1058.2 1188.7L1058.5 1188.6L1060.2 1187.5L1061.8 1186.5L1063.5 1185.4L1065.2 1184.4L1066.9 1183.4L1068.6 1182.3L1070.3 1181.3L1072.0 1180.3L1073.6 1179.3M1096.0 1165.5L1096.3 1165.3L1098.0 1164.2L1099.7 1163.2L1101.4 1162.1L1103.1 1161.0L1104.8 1160.0L1106.5 1158.9L1108.2 1157.8L1109.9 1156.7L1111.2 1155.9M1133.2 1141.5L1133.5 1141.3L1135.1 1140.1L1136.8 1139.0L1138.4 1137.9L1140.1 1136.7L1141.7 1135.6L1143.4 1134.4L1145.0 1133.2L1146.7 1132.1L1147.9 1131.2M1169.0 1115.4L1169.2 1115.2L1170.8 1113.9L1172.4 1112.7L1174.0 1111.4L1175.5 1110.2L1177.1 1108.9L1178.6 1107.6L1180.2 1106.3L1181.7 1105.1L1182.9 1104.0M1202.7 1086.7L1202.9 1086.6L1204.3 1085.2L1205.8 1083.9L1207.3 1082.5L1208.7 1081.2L1210.2 1079.8L1211.6 1078.4L1213.1 1077.0L1214.5 1075.7L1215.8 1074.4M1234.6 1055.9L1234.8 1055.7L1236.2 1054.3L1237.6 1052.9L1238.9 1051.4L1240.3 1050.0L1241.7 1048.6L1243.1 1047.1L1244.5 1045.7L1245.9 1044.2L1247.1 1043.0M1264.9 1023.7L1265.1 1023.4L1266.5 1021.9L1267.8 1020.4L1269.1 1018.9L1270.4 1017.4L1271.8 1016.0L1273.1 1014.5L1274.4 1013.0L1275.7 1011.5L1276.8 1010.2M1293.8 990.1L1294.0 989.8L1295.3 988.3L1296.5 986.7L1297.8 985.2L1299.1 983.6L1300.3 982.1L1301.6 980.5L1302.8 979.0L1304.0 977.4L1305.1 976.1M1321.2 955.3L1321.4 955.0L1322.6 953.4L1323.8 951.8L1325.0 950.2L1326.2 948.6L1327.4 947.0L1328.6 945.4L1329.7 943.8L1330.9 942.2L1331.9 940.8M1347.2 919.4L1347.4 919.2L1348.5 917.5L1349.6 915.9L1350.8 914.3L1351.9 912.6L1353.0 911.0L1354.1 909.3L1355.3 907.7L1356.4 906.0L1357.4 904.6M1371.8 882.6L1372.0 882.4L1373.1 880.7L1374.1 879.0L1375.2 877.3L1376.3 875.6L1377.3 874.0L1378.4 872.3L1379.5 870.6L1380.5 868.9L1381.5 867.4M1395.2 845.0L1395.4 844.7L1396.4 843.0L1397.4 841.3L1398.5 839.5L1399.5 837.8L1400.5 836.1L1401.5 834.4L1402.5 832.7L1403.5 831.0L1404.4 829.5M1417.5 806.7L1417.8 806.3L1418.7 804.5L1419.7 802.8L1420.7 801.0L1421.7 799.3L1422.7 797.6L1423.6 795.8L1424.6 794.1L1425.6 792.3L1426.3 791.0M1438.9 767.9L1439.0 767.7L1439.9 765.9L1440.9 764.1L1441.8 762.4L1442.8 760.6L1443.7 758.8L1444.7 757.0L1445.6 755.3L1446.5 753.5L1447.3 752.0M1459.4 728.6L1459.5 728.5L1460.4 726.8L1461.3 725.0L1462.2 723.2L1463.1 721.4L1464.0 719.6L1465.0 717.8L1465.9 716.0L1466.8 714.2L1467.6 712.6M1479.3 689.1L1479.3 689.0L1480.2 687.2L1481.1 685.4L1482.0 683.6L1482.9 681.8L1483.7 680.0L1484.6 678.2L1485.5 676.4L1486.4 674.6L1487.2 672.9M1498.6 649.2L1498.6 649.2L1499.5 647.4L1500.3 645.5L1501.2 643.7L1502.1 641.9L1502.9 640.1L1503.8 638.3L1504.6 636.4L1505.5 634.6L1506.3 632.9M1517.5 609.1L1517.7 608.7L1518.5 606.8L1519.4 605.0L1520.2 603.2L1521.1 601.4L1521.9 599.5L1522.7 597.7L1523.6 595.9L1524.4 594.1L1525.0 592.8M1536.0 568.9L1536.2 568.5L1537.0 566.7L1537.8 564.9L1538.7 563.0L1539.5 561.2L1540.3 559.4L1541.2 557.6L1542.0 555.7L1542.8 553.9L1543.5 552.5M1554.4 528.6L1554.5 528.4L1555.3 526.6L1556.1 524.7L1556.9 522.9L1557.8 521.1L1558.6 519.3L1559.4 517.5L1560.2 515.6L1561.1 513.8L1561.8 512.2M1572.7 488.2L1572.8 487.9L1573.6 486.1L1574.5 484.3L1575.3 482.5L1576.1 480.7L1576.9 478.8L1577.7 477.0L1578.6 475.2L1579.4 473.4L1580.1 471.8M1591.0 447.9L1591.1 447.7L1592.0 445.8L1592.8 444.0L1593.6 442.2L1594.4 440.4L1595.3 438.6L1596.1 436.8L1596.9 435.0L1597.8 433.2L1598.5 431.5M1609.6 407.6L1609.6 407.6L1610.4 405.8L1611.3 404.0L1612.1 402.2L1612.9 400.4L1613.8 398.6L1614.6 396.8L1615.5 395.0L1616.3 393.2L1617.1 391.4L1617.2 391.3M1628.3 367.5L1628.5 367.1L1629.4 365.3L1630.2 363.5L1631.1 361.7L1632.0 359.9L1632.8 358.1L1633.7 356.3L1634.5 354.5L1635.4 352.7L1636.1 351.3M1647.5 327.6L1647.5 327.6L1648.4 325.8L1649.2 324.0L1650.1 322.2L1651.0 320.4L1651.9 318.6L1652.7 316.8L1653.6 315.0L1654.5 313.2L1655.4 311.4M1667.1 287.9L1667.3 287.6L1668.2 285.8L1669.1 284.0L1670.0 282.2L1670.9 280.4L1671.9 278.6L1672.8 276.8L1673.7 275.0L1674.6 273.3L1675.4 271.9M1687.9 248.7L1688.0 248.5L1689.0 246.7L1690.0 245.0L1691.0 243.2L1692.0 241.5L1693.0 239.7L1694.0 238.0L1695.0 236.3L1696.0 234.5L1696.8 233.1M1710.6 210.7L1710.7 210.5L1711.8 208.9L1712.9 207.2L1714.0 205.5L1715.1 203.8L1716.2 202.2L1717.4 200.5L1718.5 198.8L1719.6 197.2L1720.6 195.7M1736.1 174.5L1736.1 174.5L1737.3 172.9L1738.6 171.3L1739.8 169.7L1741.1 168.2L1742.3 166.6L1743.6 165.0L1744.9 163.5L1746.1 161.9L1747.4 160.5M1764.9 140.9L1765.2 140.7L1766.6 139.2L1768.0 137.8L1769.4 136.4L1770.8 135.0L1772.2 133.6L1773.7 132.2L1775.1 130.8L1776.6 129.4L1777.8 128.3M1797.8 111.2L1798.1 110.9L1799.7 109.7L1801.2 108.5L1802.8 107.3L1804.4 106.2L1806.0 105.0L1807.6 103.9L1809.3 102.7L1810.9 101.6L1812.3 100.6M1834.9 87.1L1835.0 87.1L1836.8 86.2L1838.6 85.3L1840.3 84.4L1842.1 83.5L1843.9 82.7L1845.7 81.9L1847.5 81.1L1849.3 80.3L1851.2 79.5L1851.2 79.5M1876.0 70.8L1876.2 70.8L1878.2 70.3L1880.1 69.7L1882.1 69.3L1884.1 68.8L1886.1 68.3L1888.1 67.9L1890.1 67.5L1892.1 67.1L1893.5 66.8" fill="none" stroke="#000000" stroke-width="7.5" stroke-linecap="round" stroke-linejoin="round"/><rect x="304.00" y="57.00" width="6.00" height="1353.00" fill="#000"/><rect x="2048.00" y="57.00" width="6.00" height="1353.00" fill="#000"/><rect x="288.00" y="57.00" width="1766.00" height="6.00" fill="#000"/><rect x="288.00" y="1403.00" width="1766.00" height="7.00" fill="#000"/><rect x="292.00" y="1268.45" width="12.00" height="6.80" fill="#000"/><rect x="288.00" y="1134.20" width="16.00" height="6.00" fill="#000"/><rect x="292.00" y="999.15" width="12.00" height="6.80" fill="#000"/><rect x="288.00" y="864.90" width="16.00" height="6.00" fill="#000"/><rect x="292.00" y="729.85" width="12.00" height="6.80" fill="#000"/><rect x="288.00" y="595.60" width="16.00" height="6.00" fill="#000"/><rect x="292.00" y="460.55" width="12.00" height="6.80" fill="#000"/><rect x="288.00" y="326.30" width="16.00" height="6.00" fill="#000"/><rect x="292.00" y="191.25" width="12.00" height="6.80" fill="#000"/><rect x="304.00" y="1410.00" width="6.00" height="15.00" fill="#000"/><rect x="435.25" y="1410.00" width="6.00" height="11.00" fill="#000"/><rect x="512.02" y="1410.00" width="6.00" height="11.00" fill="#000"/><rect x="566.50" y="1410.00" width="6.00" height="11.00" fill="#000"/><rect x="608.75" y="1410.00" width="6.00" height="11.00" fill="#000"/><rect x="643.27" y="1410.00" width="6.00" height="11.00" fill="#000"/><rect x="672.46" y="1410.00" width="6.00" height="11.00" fill="#000"/><rect x="697.75" y="1410.00" width="6.00" height="11.00" fill="#000"/><rect x="720.05" y="1410.00" width="6.00" height="11.00" fill="#000"/><rect x="740.00" y="1410.00" width="6.00" height="15.00" fill="#000"/><rect x="871.25" y="1410.00" width="6.00" height="11.00" fill="#000"/><rect x="948.02" y="1410.00" width="6.00" height="11.00" fill="#000"/><rect x="1002.50" y="1410.00" width="6.00" height="11.00" fill="#000"/><rect x="1044.75" y="1410.00" width="6.00" height="11.00" fill="#000"/><rect x="1079.27" y="1410.00" width="6.00" height="11.00" fill="#000"/><rect x="1108.46" y="1410.00" width="6.00" height="11.00" fill="#000"/><rect x="1133.75" y="1410.00" width="6.00" height="11.00" fill="#000"/><rect x="1156.05" y="1410.00" width="6.00" height="11.00" fill="#000"/><rect x="1176.00" y="1410.00" width="6.00" height="15.00" fill="#000"/><rect x="1307.25" y="1410.00" width="6.00" height="11.00" fill="#000"/><rect x="1384.02" y="1410.00" width="6.00" height="11.00" fill="#000"/><rect x="1438.50" y="1410.00" width="6.00" height="11.00" fill="#000"/><rect x="1480.75" y="1410.00" width="6.00" height="11.00" fill="#000"/><rect x="1515.27" y="1410.00" width="6.00" height="11.00" fill="#000"/><rect x="1544.46" y="1410.00" width="6.00" height="11.00" fill="#000"/><rect x="1569.75" y="1410.00" width="6.00" height="11.00" fill="#000"/><rect x="1592.05" y="1410.00" width="6.00" height="11.00" fill="#000"/><rect x="1612.00" y="1410.00" width="6.00" height="15.00" fill="#000"/><rect x="1743.25" y="1410.00" width="6.00" height="11.00" fill="#000"/><rect x="1820.02" y="1410.00" width="6.00" height="11.00" fill="#000"/><rect x="1874.50" y="1410.00" width="6.00" height="11.00" fill="#000"/><rect x="1916.75" y="1410.00" width="6.00" height="11.00" fill="#000"/><rect x="1951.27" y="1410.00" width="6.00" height="11.00" fill="#000"/><rect x="1980.46" y="1410.00" width="6.00" height="11.00" fill="#000"/><rect x="2005.75" y="1410.00" width="6.00" height="11.00" fill="#000"/><rect x="2028.05" y="1410.00" width="6.00" height="11.00" fill="#000"/><rect x="2048.00" y="1410.00" width="6.00" height="15.00" fill="#000"/><g font-family="'Liberation Sans', Arial, Helvetica, sans-serif" fill="#000"><text transform="translate(254.0,1427.5) scale(1,1.08)" font-size="61.5" text-anchor="end">0</text><text transform="translate(254.0,1158.2) scale(1,1.08)" font-size="61.5" text-anchor="end">0.2</text><text transform="translate(254.0,888.9) scale(1,1.08)" font-size="61.5" text-anchor="end">0.4</text><text transform="translate(254.0,619.6) scale(1,1.08)" font-size="61.5" text-anchor="end">0.6</text><text transform="translate(254.0,350.3) scale(1,1.08)" font-size="61.5" text-anchor="end">0.8</text><text transform="translate(254.0,81.0) scale(1,1.08)" font-size="61.5" text-anchor="end">1</text><text transform="translate(307.0,1501.0) scale(1,1.08)" font-size="61.5" text-anchor="middle">1</text><text transform="translate(743.0,1501.0) scale(1,1.08)" font-size="61.5" text-anchor="middle">10</text><text transform="translate(1179.0,1501.0) scale(1,1.08)" font-size="61.5" text-anchor="middle">100</text><text transform="translate(1615.0,1501.0) scale(1,1.08)" font-size="61.5" text-anchor="middle">1000</text><text transform="translate(2051.0,1501.0) scale(1,1.08)" font-size="61.5" text-anchor="middle">10000</text><text transform="translate(1171.0,1583.0) scale(1,1.02)" font-size="61.5" text-anchor="middle">Time [days]</text><text transform="translate(96,705.5) rotate(-90) scale(1,1.03)" font-size="61.5" text-anchor="middle">Average Degree of Consolidation [ ]</text></g><g font-family="'Liberation Sans', Arial, Helvetica, sans-serif" fill="#000"><text transform="translate(520.5,131.0) scale(1,1.0)" font-size="50.1">[k]<tspan font-size="34.5" dy="12.5">A</tspan><tspan dy="-12.5">/[k]</tspan><tspan font-size="34.5" dy="12.5">B</tspan><tspan dy="-12.5">=1.0 (Homogeneous)</tspan></text><text transform="translate(520.5,221.0) scale(1,1.0)" font-size="50.1">[k]<tspan font-size="34.5" dy="12.5">A</tspan><tspan dy="-12.5">/[k]</tspan><tspan font-size="34.5" dy="12.5">B</tspan><tspan dy="-12.5">=5.0, t/H=0.50</tspan></text><text transform="translate(520.5,312.8) scale(1,1.0)" font-size="50.1">[k]<tspan font-size="34.5" dy="12.5">A</tspan><tspan dy="-12.5">/[k]</tspan><tspan font-size="34.5" dy="12.5">B</tspan><tspan dy="-12.5">=5.0, t/H=0.25</tspan></text><text transform="translate(520.5,403.9) scale(1,1.0)" font-size="50.1">[k]<tspan font-size="34.5" dy="12.5">A</tspan><tspan dy="-12.5">/[k]</tspan><tspan font-size="34.5" dy="12.5">B</tspan><tspan dy="-12.5">=5.0, t/H=0.05</tspan></text><text transform="translate(520.5,496.8) scale(1,1.0)" font-size="50.1">[k]<tspan font-size="34.5" dy="12.5">A</tspan><tspan dy="-12.5">/[k]</tspan><tspan font-size="34.5" dy="12.5">B</tspan><tspan dy="-12.5">=0.2, t/H=0.05</tspan></text><text transform="translate(517.2,586.0) scale(1,1.0)" font-size="50.1">[k]<tspan font-size="34.5" dy="12.5">A</tspan><tspan dy="-12.5">/[k]</tspan><tspan font-size="34.5" dy="12.5">B</tspan><tspan dy="-12.5">=0.2, t/H=0.25</tspan></text><text transform="translate(517.2,675.2) scale(1,1.0)" font-size="50.1">[k]<tspan font-size="34.5" dy="12.5">A</tspan><tspan dy="-12.5">/[k]</tspan><tspan font-size="34.5" dy="12.5">B</tspan><tspan dy="-12.5">=0.2, t/H=0.50</tspan></text></g><line x1="391" y1="116.4" x2="484" y2="116.4" stroke="#ff0000" stroke-width="6.5" stroke-linecap="butt"/><circle cx="391" cy="116.4" r="3.25" fill="#ff0000"/><line x1="391.3" y1="207" x2="410.5" y2="207" stroke="#ff0000" stroke-width="7" stroke-linecap="round"/><line x1="435.4" y1="207" x2="454.6" y2="207" stroke="#ff0000" stroke-width="7" stroke-linecap="round"/><line x1="479.4" y1="207" x2="498.7" y2="207" stroke="#ff0000" stroke-width="7" stroke-linecap="round"/><line x1="391.3" y1="660.5" x2="410.5" y2="660.5" stroke="#000" stroke-width="7" stroke-linecap="round"/><line x1="435.4" y1="660.5" x2="454.6" y2="660.5" stroke="#000" stroke-width="7" stroke-linecap="round"/><line x1="479.4" y1="660.5" x2="498.7" y2="660.5" stroke="#000" stroke-width="7" stroke-linecap="round"/><circle cx="391.30" cy="298" r="3.7" fill="#ff0000"/><circle cx="403.95" cy="298" r="3.7" fill="#ff0000"/><circle cx="416.60" cy="298" r="3.7" fill="#ff0000"/><circle cx="429.25" cy="298" r="3.7" fill="#ff0000"/><circle cx="441.90" cy="298" r="3.7" fill="#ff0000"/><circle cx="454.55" cy="298" r="3.7" fill="#ff0000"/><circle cx="467.20" cy="298" r="3.7" fill="#ff0000"/><circle cx="479.85" cy="298" r="3.7" fill="#ff0000"/><circle cx="492.50" cy="298" r="3.7" fill="#ff0000"/><circle cx="391.30" cy="570" r="3.7" fill="#000"/><circle cx="403.95" cy="570" r="3.7" fill="#000"/><circle cx="416.60" cy="570" r="3.7" fill="#000"/><circle cx="429.25" cy="570" r="3.7" fill="#000"/><circle cx="441.90" cy="570" r="3.7" fill="#000"/><circle cx="454.55" cy="570" r="3.7" fill="#000"/><circle cx="467.20" cy="570" r="3.7" fill="#000"/><circle cx="479.85" cy="570" r="3.7" fill="#000"/><circle cx="492.50" cy="570" r="3.7" fill="#000"/><line x1="391.3" y1="388.5" x2="435.7" y2="388.5" stroke="#ff0000" stroke-width="7" stroke-linecap="round"/><circle cx="460.6" cy="388.5" r="3.8" fill="#ff0000"/><circle cx="486" cy="388.5" r="3.8" fill="#ff0000"/><line x1="392.05" y1="478.8" x2="434.95" y2="478.8" stroke="#000" stroke-width="8.5" stroke-linecap="round"/><circle cx="460.6" cy="478.8" r="3.8" fill="#000"/><circle cx="486" cy="478.8" r="3.8" fill="#000"/><rect x="590" y="691" width="6" height="2" fill="#000"/><path d="M866 691 L869 691 L871 692.8 L868 692.8 Z" fill="#000"/><path d="M963 691 L966 691 L964 692.8 L961 692.8 Z" fill="#000"/><defs><pattern id="stip" patternUnits="userSpaceOnUse" x="1532" y="791" width="16" height="16"><g fill="#000"><rect x="2" y="0" width="1" height="1"/><rect x="6" y="0" width="1" height="1"/><rect x="10" y="0" width="1" height="1"/><rect x="14" y="0" width="1" height="1"/><rect x="0" y="2" width="1" height="1"/><rect x="2" y="2" width="1" height="1"/><rect x="4" y="2" width="1" height="1"/><rect x="6" y="2" width="1" height="1"/><rect x="8" y="2" width="1" height="1"/><rect x="10" y="2" width="1" height="1"/><rect x="12" y="2" width="1" height="1"/><rect x="14" y="2" width="1" height="1"/><rect x="0" y="4" width="1" height="1"/><rect x="2" y="4" width="1" height="1"/><rect x="6" y="4" width="1" height="1"/><rect x="8" y="4" width="1" height="1"/><rect x="10" y="4" width="1" height="1"/><rect x="14" y="4" width="1" height="1"/><rect x="0" y="6" width="1" height="1"/><rect x="2" y="6" width="1" height="1"/><rect x="4" y="6" width="1" height="1"/><rect x="6" y="6" width="1" height="1"/><rect x="8" y="6" width="1" height="1"/><rect x="10" y="6" width="1" height="1"/><rect x="12" y="6" width="1" height="1"/><rect x="14" y="6" width="1" height="1"/><rect x="2" y="8" width="1" height="1"/><rect x="6" y="8" width="1" height="1"/><rect x="10" y="8" width="1" height="1"/><rect x="14" y="8" width="1" height="1"/><rect x="0" y="10" width="1" height="1"/><rect x="2" y="10" width="1" height="1"/><rect x="4" y="10" width="1" height="1"/><rect x="6" y="10" width="1" height="1"/><rect x="8" y="10" width="1" height="1"/><rect x="10" y="10" width="1" height="1"/><rect x="12" y="10" width="1" height="1"/><rect x="14" y="10" width="1" height="1"/><rect x="0" y="12" width="1" height="1"/><rect x="2" y="12" width="1" height="1"/><rect x="6" y="12" width="1" height="1"/><rect x="10" y="12" width="1" height="1"/><rect x="14" y="12" width="1" height="1"/><rect x="0" y="14" width="1" height="1"/><rect x="2" y="14" width="1" height="1"/><rect x="4" y="14" width="1" height="1"/><rect x="6" y="14" width="1" height="1"/><rect x="8" y="14" width="1" height="1"/><rect x="10" y="14" width="1" height="1"/><rect x="12" y="14" width="1" height="1"/><rect x="14" y="14" width="1" height="1"/></g></pattern><pattern id="stip2" patternUnits="userSpaceOnUse" x="1531" y="1090" width="16" height="16"><g fill="#000"><rect x="0" y="0" width="1" height="1"/><rect x="2" y="0" width="1" height="1"/><rect x="4" y="0" width="1" height="1"/><rect x="8" y="0" width="1" height="1"/><rect x="12" y="0" width="1" height="1"/><rect x="0" y="2" width="1" height="1"/><rect x="2" y="2" width="1" height="1"/><rect x="4" y="2" width="1" height="1"/><rect x="6" y="2" width="1" height="1"/><rect x="8" y="2" width="1" height="1"/><rect x="10" y="2" width="1" height="1"/><rect x="12" y="2" width="1" height="1"/><rect x="14" y="2" width="1" height="1"/><rect x="0" y="4" width="1" height="1"/><rect x="4" y="4" width="1" height="1"/><rect x="8" y="4" width="1" height="1"/><rect x="12" y="4" width="1" height="1"/><rect x="0" y="6" width="1" height="1"/><rect x="2" y="6" width="1" height="1"/><rect x="4" y="6" width="1" height="1"/><rect x="6" y="6" width="1" height="1"/><rect x="8" y="6" width="1" height="1"/><rect x="10" y="6" width="1" height="1"/><rect x="12" y="6" width="1" height="1"/><rect x="14" y="6" width="1" height="1"/><rect x="0" y="8" width="1" height="1"/><rect x="2" y="8" width="1" height="1"/><rect x="4" y="8" width="1" height="1"/><rect x="8" y="8" width="1" height="1"/><rect x="10" y="8" width="1" height="1"/><rect x="12" y="8" width="1" height="1"/><rect x="0" y="10" width="1" height="1"/><rect x="2" y="10" width="1" height="1"/><rect x="4" y="10" width="1" height="1"/><rect x="6" y="10" width="1" height="1"/><rect x="8" y="10" width="1" height="1"/><rect x="10" y="10" width="1" height="1"/><rect x="12" y="10" width="1" height="1"/><rect x="14" y="10" width="1" height="1"/><rect x="0" y="12" width="1" height="1"/><rect x="4" y="12" width="1" height="1"/><rect x="8" y="12" width="1" height="1"/><rect x="12" y="12" width="1" height="1"/><rect x="0" y="14" width="1" height="1"/><rect x="2" y="14" width="1" height="1"/><rect x="4" y="14" width="1" height="1"/><rect x="6" y="14" width="1" height="1"/><rect x="8" y="14" width="1" height="1"/><rect x="10" y="14" width="1" height="1"/><rect x="12" y="14" width="1" height="1"/><rect x="14" y="14" width="1" height="1"/></g></pattern></defs><rect x="1523.00" y="781.00" width="437.00" height="512.00" fill="#fff"/><rect x="1529" y="787" width="425" height="95" fill="url(#stip)"/><rect x="1529" y="1090" width="425" height="94" fill="url(#stip2)"/><rect x="1523.00" y="781.00" width="6.00" height="512.00" fill="#000"/><rect x="1954.00" y="781.00" width="6.00" height="512.00" fill="#000"/><rect x="1523.00" y="781.00" width="437.00" height="6.00" fill="#000"/><rect x="1523.00" y="1287.00" width="437.00" height="6.00" fill="#000"/><rect x="1523.00" y="881.50" width="437.00" height="6.30" fill="#000"/><rect x="1523.00" y="982.70" width="437.00" height="5.90" fill="#000"/><rect x="1523.00" y="1084.00" width="437.00" height="6.00" fill="#000"/><rect x="1523.00" y="1184.20" width="437.00" height="8.40" fill="#000"/><rect x="1736.00" y="1001.60" width="5.00" height="5.20" fill="#000"/><rect x="1736.00" y="1018.60" width="5.00" height="5.20" fill="#000"/><rect x="1736.00" y="1035.70" width="5.00" height="5.20" fill="#000"/><rect x="1736.00" y="1051.90" width="5.00" height="5.20" fill="#000"/><rect x="1736.00" y="1065.90" width="5.00" height="5.20" fill="#000"/><rect x="1466.00" y="782.00" width="57.00" height="4.00" fill="#000"/><rect x="1466.00" y="881.00" width="57.00" height="4.50" fill="#000"/><rect x="1494.00" y="800.00" width="5.00" height="66.00" fill="#000"/><path d="M1496.5 785.5 L1512 815 L1499 807 L1494 807 L1481 815 Z" fill="#000"/><path d="M1496.5 881 L1512 852 L1499 859.5 L1494 859.5 L1481 852 Z" fill="#000"/><rect x="1960.00" y="782.00" width="59.00" height="4.00" fill="#000"/><rect x="1960.00" y="1288.60" width="48.00" height="4.30" fill="#000"/><rect x="1978.00" y="805.00" width="4.00" height="470.00" fill="#000"/><path d="M1980 788 L1996 820 L1982 810.5 L1978 810.5 L1964 820 Z" fill="#000"/><path d="M1980 1288.6 L1996 1258 L1982 1268.5 L1978 1268.5 L1964 1258 Z" fill="#000"/><line x1="1519.0" y1="1318.5" x2="1543.4" y2="1293" stroke="#000" stroke-width="5"/><line x1="1551.4" y1="1318.5" x2="1574.5" y2="1293" stroke="#000" stroke-width="5"/><line x1="1581.3" y1="1318.5" x2="1605.5" y2="1293" stroke="#000" stroke-width="5"/><line x1="1612.5" y1="1318.5" x2="1636.9" y2="1293" stroke="#000" stroke-width="5"/><line x1="1644.9" y1="1318.5" x2="1669.4" y2="1293" stroke="#000" stroke-width="5"/><line x1="1674.9" y1="1318.5" x2="1699.3" y2="1293" stroke="#000" stroke-width="5"/><line x1="1703.5" y1="1318.5" x2="1729.2" y2="1293" stroke="#000" stroke-width="5"/><line x1="1736.0" y1="1318.5" x2="1759.2" y2="1293" stroke="#000" stroke-width="5"/><line x1="1765.9" y1="1318.5" x2="1789.1" y2="1293" stroke="#000" stroke-width="5"/><line x1="1797.1" y1="1318.5" x2="1820.3" y2="1293" stroke="#000" stroke-width="5"/><line x1="1829.5" y1="1318.5" x2="1851.5" y2="1293" stroke="#000" stroke-width="5"/><line x1="1859.5" y1="1318.5" x2="1882.5" y2="1293" stroke="#000" stroke-width="5"/><line x1="1890.5" y1="1318.5" x2="1912.5" y2="1293" stroke="#000" stroke-width="5"/><line x1="1921.8" y1="1315.5" x2="1938.8" y2="1293" stroke="#000" stroke-width="5"/><g font-family="'Liberation Sans', Arial, Helvetica, sans-serif" fill="#000"><text x="1733.2" y="855.0" font-size="52" text-anchor="middle">A</text><text x="1733.4" y="954.3" font-size="52" text-anchor="middle">B</text><text x="1736.7" y="1160.3" font-size="52" text-anchor="middle">A</text><text x="1737.6" y="1258.5" font-size="52" text-anchor="middle">B</text><text x="1462.9" y="855.5" font-size="52" text-anchor="middle">t</text><text x="2017.0" y="1061.0" font-size="52" text-anchor="middle">H</text><text transform="translate(1747.7,1378.6) scale(1.04,1)" font-size="44" text-anchor="middle">Impermeable layer</text></g></svg></body></html>
